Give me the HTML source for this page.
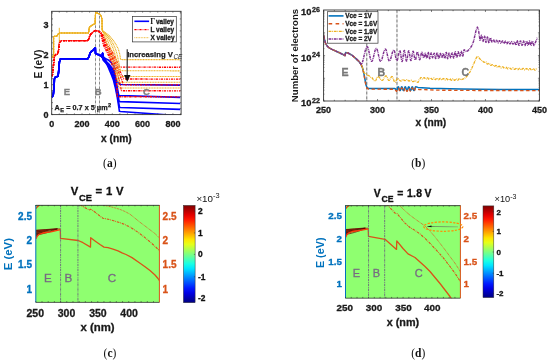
<!DOCTYPE html>
<html><head><meta charset="utf-8"><style>
html,body{margin:0;padding:0;background:#fff;}
svg{display:block;font-family:"Liberation Sans", sans-serif;will-change:transform;}
</style></head><body>
<svg width="550" height="361" viewBox="0 0 550 361">
<rect width="550" height="361" fill="#fff"/>
<clipPath id="ca"><rect x="51.7" y="11.3" width="129.39999999999998" height="103.3"/></clipPath>
<line x1="51.70" y1="114.6" x2="51.70" y2="113.3" stroke="#333" stroke-width="0.6"/>
<line x1="51.70" y1="11.3" x2="51.70" y2="12.600000000000001" stroke="#333" stroke-width="0.6"/>
<line x1="59.28" y1="114.6" x2="59.28" y2="113.3" stroke="#333" stroke-width="0.6"/>
<line x1="59.28" y1="11.3" x2="59.28" y2="12.600000000000001" stroke="#333" stroke-width="0.6"/>
<line x1="66.85" y1="114.6" x2="66.85" y2="113.3" stroke="#333" stroke-width="0.6"/>
<line x1="66.85" y1="11.3" x2="66.85" y2="12.600000000000001" stroke="#333" stroke-width="0.6"/>
<line x1="74.42" y1="114.6" x2="74.42" y2="113.3" stroke="#333" stroke-width="0.6"/>
<line x1="74.42" y1="11.3" x2="74.42" y2="12.600000000000001" stroke="#333" stroke-width="0.6"/>
<line x1="82.00" y1="114.6" x2="82.00" y2="113.3" stroke="#333" stroke-width="0.6"/>
<line x1="82.00" y1="11.3" x2="82.00" y2="12.600000000000001" stroke="#333" stroke-width="0.6"/>
<line x1="89.58" y1="114.6" x2="89.58" y2="113.3" stroke="#333" stroke-width="0.6"/>
<line x1="89.58" y1="11.3" x2="89.58" y2="12.600000000000001" stroke="#333" stroke-width="0.6"/>
<line x1="97.15" y1="114.6" x2="97.15" y2="113.3" stroke="#333" stroke-width="0.6"/>
<line x1="97.15" y1="11.3" x2="97.15" y2="12.600000000000001" stroke="#333" stroke-width="0.6"/>
<line x1="104.72" y1="114.6" x2="104.72" y2="113.3" stroke="#333" stroke-width="0.6"/>
<line x1="104.72" y1="11.3" x2="104.72" y2="12.600000000000001" stroke="#333" stroke-width="0.6"/>
<line x1="112.30" y1="114.6" x2="112.30" y2="113.3" stroke="#333" stroke-width="0.6"/>
<line x1="112.30" y1="11.3" x2="112.30" y2="12.600000000000001" stroke="#333" stroke-width="0.6"/>
<line x1="119.88" y1="114.6" x2="119.88" y2="113.3" stroke="#333" stroke-width="0.6"/>
<line x1="119.88" y1="11.3" x2="119.88" y2="12.600000000000001" stroke="#333" stroke-width="0.6"/>
<line x1="127.45" y1="114.6" x2="127.45" y2="113.3" stroke="#333" stroke-width="0.6"/>
<line x1="127.45" y1="11.3" x2="127.45" y2="12.600000000000001" stroke="#333" stroke-width="0.6"/>
<line x1="135.03" y1="114.6" x2="135.03" y2="113.3" stroke="#333" stroke-width="0.6"/>
<line x1="135.03" y1="11.3" x2="135.03" y2="12.600000000000001" stroke="#333" stroke-width="0.6"/>
<line x1="142.60" y1="114.6" x2="142.60" y2="113.3" stroke="#333" stroke-width="0.6"/>
<line x1="142.60" y1="11.3" x2="142.60" y2="12.600000000000001" stroke="#333" stroke-width="0.6"/>
<line x1="150.18" y1="114.6" x2="150.18" y2="113.3" stroke="#333" stroke-width="0.6"/>
<line x1="150.18" y1="11.3" x2="150.18" y2="12.600000000000001" stroke="#333" stroke-width="0.6"/>
<line x1="157.75" y1="114.6" x2="157.75" y2="113.3" stroke="#333" stroke-width="0.6"/>
<line x1="157.75" y1="11.3" x2="157.75" y2="12.600000000000001" stroke="#333" stroke-width="0.6"/>
<line x1="165.32" y1="114.6" x2="165.32" y2="113.3" stroke="#333" stroke-width="0.6"/>
<line x1="165.32" y1="11.3" x2="165.32" y2="12.600000000000001" stroke="#333" stroke-width="0.6"/>
<line x1="172.90" y1="114.6" x2="172.90" y2="113.3" stroke="#333" stroke-width="0.6"/>
<line x1="172.90" y1="11.3" x2="172.90" y2="12.600000000000001" stroke="#333" stroke-width="0.6"/>
<line x1="180.48" y1="114.6" x2="180.48" y2="113.3" stroke="#333" stroke-width="0.6"/>
<line x1="180.48" y1="11.3" x2="180.48" y2="12.600000000000001" stroke="#333" stroke-width="0.6"/>
<line x1="51.7" y1="114.60" x2="53.0" y2="114.60" stroke="#333" stroke-width="0.6"/>
<line x1="181.1" y1="114.60" x2="179.79999999999998" y2="114.60" stroke="#333" stroke-width="0.6"/>
<line x1="51.7" y1="108.62" x2="53.0" y2="108.62" stroke="#333" stroke-width="0.6"/>
<line x1="181.1" y1="108.62" x2="179.79999999999998" y2="108.62" stroke="#333" stroke-width="0.6"/>
<line x1="51.7" y1="102.64" x2="53.0" y2="102.64" stroke="#333" stroke-width="0.6"/>
<line x1="181.1" y1="102.64" x2="179.79999999999998" y2="102.64" stroke="#333" stroke-width="0.6"/>
<line x1="51.7" y1="96.66" x2="53.0" y2="96.66" stroke="#333" stroke-width="0.6"/>
<line x1="181.1" y1="96.66" x2="179.79999999999998" y2="96.66" stroke="#333" stroke-width="0.6"/>
<line x1="51.7" y1="90.68" x2="53.0" y2="90.68" stroke="#333" stroke-width="0.6"/>
<line x1="181.1" y1="90.68" x2="179.79999999999998" y2="90.68" stroke="#333" stroke-width="0.6"/>
<line x1="51.7" y1="84.70" x2="53.0" y2="84.70" stroke="#333" stroke-width="0.6"/>
<line x1="181.1" y1="84.70" x2="179.79999999999998" y2="84.70" stroke="#333" stroke-width="0.6"/>
<line x1="51.7" y1="78.72" x2="53.0" y2="78.72" stroke="#333" stroke-width="0.6"/>
<line x1="181.1" y1="78.72" x2="179.79999999999998" y2="78.72" stroke="#333" stroke-width="0.6"/>
<line x1="51.7" y1="72.74" x2="53.0" y2="72.74" stroke="#333" stroke-width="0.6"/>
<line x1="181.1" y1="72.74" x2="179.79999999999998" y2="72.74" stroke="#333" stroke-width="0.6"/>
<line x1="51.7" y1="66.76" x2="53.0" y2="66.76" stroke="#333" stroke-width="0.6"/>
<line x1="181.1" y1="66.76" x2="179.79999999999998" y2="66.76" stroke="#333" stroke-width="0.6"/>
<line x1="51.7" y1="60.78" x2="53.0" y2="60.78" stroke="#333" stroke-width="0.6"/>
<line x1="181.1" y1="60.78" x2="179.79999999999998" y2="60.78" stroke="#333" stroke-width="0.6"/>
<line x1="51.7" y1="54.80" x2="53.0" y2="54.80" stroke="#333" stroke-width="0.6"/>
<line x1="181.1" y1="54.80" x2="179.79999999999998" y2="54.80" stroke="#333" stroke-width="0.6"/>
<line x1="51.7" y1="48.82" x2="53.0" y2="48.82" stroke="#333" stroke-width="0.6"/>
<line x1="181.1" y1="48.82" x2="179.79999999999998" y2="48.82" stroke="#333" stroke-width="0.6"/>
<line x1="51.7" y1="42.84" x2="53.0" y2="42.84" stroke="#333" stroke-width="0.6"/>
<line x1="181.1" y1="42.84" x2="179.79999999999998" y2="42.84" stroke="#333" stroke-width="0.6"/>
<line x1="51.7" y1="36.86" x2="53.0" y2="36.86" stroke="#333" stroke-width="0.6"/>
<line x1="181.1" y1="36.86" x2="179.79999999999998" y2="36.86" stroke="#333" stroke-width="0.6"/>
<line x1="51.7" y1="30.88" x2="53.0" y2="30.88" stroke="#333" stroke-width="0.6"/>
<line x1="181.1" y1="30.88" x2="179.79999999999998" y2="30.88" stroke="#333" stroke-width="0.6"/>
<line x1="51.7" y1="24.90" x2="53.0" y2="24.90" stroke="#333" stroke-width="0.6"/>
<line x1="181.1" y1="24.90" x2="179.79999999999998" y2="24.90" stroke="#333" stroke-width="0.6"/>
<line x1="51.7" y1="18.92" x2="53.0" y2="18.92" stroke="#333" stroke-width="0.6"/>
<line x1="181.1" y1="18.92" x2="179.79999999999998" y2="18.92" stroke="#333" stroke-width="0.6"/>
<line x1="51.7" y1="12.94" x2="53.0" y2="12.94" stroke="#333" stroke-width="0.6"/>
<line x1="181.1" y1="12.94" x2="179.79999999999998" y2="12.94" stroke="#333" stroke-width="0.6"/>
<text x="48.6" y="117.8" font-size="9" text-anchor="end" font-weight="bold" fill="#1a1a1a" stroke="#1a1a1a" stroke-width="0.3" >0</text>
<text x="48.6" y="87.9" font-size="9" text-anchor="end" font-weight="bold" fill="#1a1a1a" stroke="#1a1a1a" stroke-width="0.3" >1</text>
<text x="48.6" y="58.0" font-size="9" text-anchor="end" font-weight="bold" fill="#1a1a1a" stroke="#1a1a1a" stroke-width="0.3" >2</text>
<text x="48.6" y="28.1" font-size="9" text-anchor="end" font-weight="bold" fill="#1a1a1a" stroke="#1a1a1a" stroke-width="0.3" >3</text>
<text x="51.7" y="127.3" font-size="9" text-anchor="middle" font-weight="bold" fill="#1a1a1a" stroke="#1a1a1a" stroke-width="0.3" >0</text>
<text x="82.0" y="127.3" font-size="9" text-anchor="middle" font-weight="bold" fill="#1a1a1a" stroke="#1a1a1a" stroke-width="0.3" >200</text>
<text x="112.3" y="127.3" font-size="9" text-anchor="middle" font-weight="bold" fill="#1a1a1a" stroke="#1a1a1a" stroke-width="0.3" >400</text>
<text x="142.6" y="127.3" font-size="9" text-anchor="middle" font-weight="bold" fill="#1a1a1a" stroke="#1a1a1a" stroke-width="0.3" >600</text>
<text x="172.9" y="127.3" font-size="9" text-anchor="middle" font-weight="bold" fill="#1a1a1a" stroke="#1a1a1a" stroke-width="0.3" >800</text>
<text x="116.4" y="141.5" font-size="10.2" text-anchor="middle" font-weight="bold" fill="#1a1a1a" stroke="#1a1a1a" stroke-width="0.3" >x (nm)</text>
<text transform="translate(42.0,64.1) rotate(-90)" font-size="10.2" text-anchor="middle" font-weight="bold" fill="#1a1a1a">E (eV)</text>
<line x1="95.5" y1="11.3" x2="95.5" y2="114.6" stroke="#d8d8d8" stroke-width="0.8"/>
<line x1="95.5" y1="11.3" x2="95.5" y2="114.6" stroke="#808080" stroke-width="0.9" stroke-dasharray="2.6,2.1"/>
<line x1="99.5" y1="11.3" x2="99.5" y2="114.6" stroke="#d8d8d8" stroke-width="0.8"/>
<line x1="99.5" y1="11.3" x2="99.5" y2="114.6" stroke="#808080" stroke-width="0.9" stroke-dasharray="2.6,2.1"/>
<g clip-path="url(#ca)">
<path d="M52.20,97.20 L53.30,94.50 L54.00,88.00 L54.40,79.00 L55.20,77.20 L58.00,76.30 L58.70,71.00 L59.40,62.00 L60.50,58.70 L88.00,58.70 L89.00,56.50 L90.20,53.00 L91.50,51.30 L93.00,50.30 L95.30,47.80 L95.50,53.30 L97.00,54.20 L99.00,54.80 L101.00,56.00 L102.00,57.20 L102.60,53.40 L103.10,56.60 L103.10,56.60 L104.01,57.89 L104.92,59.18 L105.81,60.47 L106.64,61.76 L107.90,63.05 L109.17,64.34 L110.20,65.63 L111.24,66.92 L112.07,68.21 L112.88,69.50 L113.42,70.79 L113.78,72.08 L114.14,73.37 L114.50,74.66 L114.85,75.95 L115.18,77.24 L115.52,78.53 L115.85,79.82 L116.11,81.11 L116.35,82.40 L116.59,83.69 L116.83,84.98 L117.08,86.27 L117.32,87.56 L117.55,88.85 L117.78,90.14 L118.01,91.43 L118.24,92.72 L118.47,94.01 L118.70,95.30 L119.90,95.50 L180.20,97.35" fill="none" stroke="#0000FF" stroke-width="1.6" stroke-linejoin="round" />
<path d="M52.20,97.20 L53.30,94.50 L54.00,88.00 L54.40,79.00 L55.20,77.20 L58.00,76.30 L58.70,71.00 L59.40,62.00 L60.50,58.70 L88.00,58.70 L89.00,56.50 L90.20,53.00 L91.50,51.30 L93.00,50.30 L95.30,47.80 L95.50,53.30 L97.00,54.20 L99.00,54.80 L101.00,56.00 L102.00,57.20 L102.60,53.40 L103.10,56.60 L103.10,56.60 L103.62,58.09 L104.38,59.59 L105.44,61.08 L106.69,62.57 L108.08,64.07 L109.16,65.56 L110.20,67.05 L111.03,68.55 L111.84,70.04 L112.33,71.53 L112.83,73.03 L113.32,74.52 L113.79,76.01 L114.24,77.51 L114.70,79.00 L115.10,80.49 L115.42,81.99 L115.73,83.48 L116.04,84.97 L116.36,86.47 L116.67,87.96 L116.95,89.45 L117.23,90.95 L117.51,92.44 L117.78,93.93 L118.06,95.43 L118.34,96.92 L118.60,98.41 L118.86,99.91 L119.11,101.40 L120.31,101.60 L180.20,103.56" fill="none" stroke="#0000FF" stroke-width="1.6" stroke-linejoin="round" />
<path d="M52.20,97.20 L53.30,94.50 L54.00,88.00 L54.40,79.00 L55.20,77.20 L58.00,76.30 L58.70,71.00 L59.40,62.00 L60.50,58.70 L88.00,58.70 L89.00,56.50 L90.20,53.00 L91.50,51.30 L93.00,50.30 L95.30,47.80 L95.50,53.30 L97.00,54.20 L99.00,54.80 L101.00,56.00 L102.00,57.20 L102.60,53.40 L103.10,56.60 L103.10,56.60 L103.11,58.29 L103.74,59.98 L105.24,61.67 L106.68,63.36 L107.90,65.05 L108.97,66.74 L109.79,68.43 L110.58,70.12 L111.21,71.81 L111.86,73.50 L112.50,75.19 L113.08,76.88 L113.66,78.57 L114.21,80.26 L114.60,81.95 L114.99,83.64 L115.38,85.33 L115.77,87.02 L116.14,88.71 L116.46,90.40 L116.79,92.09 L117.12,93.78 L117.44,95.47 L117.77,97.16 L118.05,98.85 L118.33,100.54 L118.62,102.23 L118.90,103.92 L119.17,105.61 L119.43,107.30 L120.63,107.50 L180.20,109.33" fill="none" stroke="#0000FF" stroke-width="1.6" stroke-linejoin="round" />
<path d="M52.20,97.20 L53.30,94.50 L54.00,88.00 L54.40,79.00 L55.20,77.20 L58.00,76.30 L58.70,71.00 L59.40,62.00 L60.50,58.70 L88.00,58.70 L89.00,56.50 L90.20,53.00 L91.50,51.30 L93.00,50.30 L95.30,47.80 L95.50,53.30 L97.00,54.20 L99.00,54.80 L101.00,56.00 L102.00,57.20 L102.60,53.40 L103.10,56.60 L103.10,56.60 L102.63,58.42 L103.25,60.25 L105.05,62.07 L106.42,63.89 L107.49,65.72 L108.38,67.54 L109.13,69.36 L109.88,71.19 L110.65,73.01 L111.43,74.83 L112.13,76.66 L112.82,78.48 L113.48,80.30 L113.93,82.13 L114.39,83.95 L114.84,85.77 L115.30,87.60 L115.68,89.42 L116.05,91.24 L116.41,93.07 L116.78,94.89 L117.14,96.71 L117.45,98.54 L117.75,100.36 L118.04,102.18 L118.34,104.01 L118.62,105.83 L118.88,107.65 L119.14,109.48 L119.40,111.30 L120.60,111.50 L180.20,115.77" fill="none" stroke="#0000FF" stroke-width="1.6" stroke-linejoin="round" />
<path d="M52.20,97.20 L53.30,94.50 L54.00,88.00 L54.40,79.00 L55.20,77.20 L58.00,76.30 L58.70,71.00 L59.40,62.00 L60.50,58.70 L88.00,58.70 L89.00,56.50 L90.20,53.00 L91.50,51.30 L93.00,50.30 L95.30,47.80 L95.50,53.30 L97.00,54.20 L99.00,54.80 L101.00,56.00 L102.00,57.20 L102.60,53.40 L103.10,56.60 L103.10,56.60 L104.13,57.52 L105.29,58.45 L107.14,59.37 L108.71,60.29 L109.68,61.22 L110.66,62.14 L111.72,63.06 L112.78,63.99 L113.25,64.91 L113.72,65.83 L113.99,66.76 L114.22,67.68 L114.38,68.60 L114.49,69.53 L114.61,70.45 L114.72,71.37 L114.85,72.30 L115.00,73.22 L115.14,74.14 L115.29,75.07 L115.44,75.99 L115.59,76.91 L115.89,77.84 L116.22,78.76 L116.54,79.68 L116.86,80.61 L117.33,81.53 L117.91,82.45 L118.49,83.38 L120.00,84.30 L121.20,84.50 L180.20,85.13" fill="none" stroke="#0000FF" stroke-width="1.6" stroke-linejoin="round" />
<path d="M51.80,76.20 L52.50,74.40 L53.00,70.30 L53.80,62.00 L54.50,55.90 L56.00,54.50 L58.00,53.80 L58.60,50.00 L59.20,44.20 L60.00,40.80 L61.00,40.60 L88.00,40.60 L89.00,38.00 L90.50,34.50 L93.00,32.00 L95.40,30.50 L98.00,31.00 L100.50,32.50 L100.50,32.50 L101.65,33.65 L102.79,34.79 L103.47,35.94 L104.04,37.09 L104.62,38.23 L105.14,39.38 L105.56,40.53 L105.98,41.67 L106.40,42.82 L106.82,43.97 L107.29,45.11 L108.23,46.26 L109.17,47.41 L110.11,48.55 L111.05,49.70 L111.72,50.85 L112.30,51.99 L112.87,53.14 L113.44,54.29 L114.02,55.43 L114.59,56.58 L115.16,57.73 L115.74,58.87 L116.31,60.02 L116.74,61.17 L117.17,62.31 L117.60,63.46 L118.18,64.61 L118.89,65.75 L119.60,66.90 L120.80,67.10 L180.20,67.26" fill="none" stroke="#FF0000" stroke-width="1.35" stroke-dasharray="2.4,0.9,0.9,0.9" stroke-linejoin="round" />
<path d="M51.80,76.20 L52.50,74.40 L53.00,70.30 L53.80,62.00 L54.50,55.90 L56.00,54.50 L58.00,53.80 L58.60,50.00 L59.20,44.20 L60.00,40.80 L61.00,40.60 L88.00,40.60 L89.00,38.00 L90.50,34.50 L93.00,32.00 L95.40,30.50 L98.00,31.00 L100.50,32.50 L100.50,32.50 L101.68,34.04 L102.66,35.59 L103.31,37.13 L103.96,38.67 L104.50,40.22 L105.01,41.76 L105.51,43.30 L106.01,44.85 L107.07,46.39 L108.18,47.93 L109.30,49.48 L110.18,51.02 L110.95,52.56 L111.71,54.11 L112.46,55.65 L113.21,57.19 L113.95,58.74 L114.66,60.28 L115.21,61.82 L115.77,63.37 L116.48,64.91 L117.34,66.45 L118.20,68.00 L119.07,69.54 L119.88,71.08 L120.67,72.63 L121.46,74.17 L122.23,75.71 L122.98,77.26 L123.72,78.80 L124.92,79.00 L180.20,79.13" fill="none" stroke="#FF0000" stroke-width="1.35" stroke-dasharray="2.4,0.9,0.9,0.9" stroke-linejoin="round" />
<path d="M51.80,76.20 L52.50,74.40 L53.00,70.30 L53.80,62.00 L54.50,55.90 L56.00,54.50 L58.00,53.80 L58.60,50.00 L59.20,44.20 L60.00,40.80 L61.00,40.60 L88.00,40.60 L89.00,38.00 L90.50,34.50 L93.00,32.00 L95.40,30.50 L98.00,31.00 L100.50,32.50 L100.50,32.50 L101.53,34.24 L102.33,35.97 L102.96,37.71 L103.58,39.45 L104.11,41.18 L104.61,42.92 L105.12,44.66 L106.13,46.39 L107.27,48.13 L108.40,49.87 L109.28,51.60 L110.13,53.34 L110.98,55.08 L111.79,56.81 L112.60,58.55 L113.38,60.29 L113.98,62.02 L114.59,63.76 L115.39,65.50 L116.29,67.23 L117.18,68.97 L118.02,70.71 L118.77,72.44 L119.53,74.18 L120.23,75.92 L120.89,77.65 L121.55,79.39 L122.17,81.13 L122.75,82.86 L123.34,84.60 L124.54,84.80 L180.20,84.93" fill="none" stroke="#FF0000" stroke-width="1.35" stroke-dasharray="2.4,0.9,0.9,0.9" stroke-linejoin="round" />
<path d="M51.80,76.20 L52.50,74.40 L53.00,70.30 L53.80,62.00 L54.50,55.90 L56.00,54.50 L58.00,53.80 L58.60,50.00 L59.20,44.20 L60.00,40.80 L61.00,40.60 L88.00,40.60 L89.00,38.00 L90.50,34.50 L93.00,32.00 L95.40,30.50 L98.00,31.00 L100.50,32.50 L100.50,32.50 L101.31,34.43 L101.94,36.37 L102.53,38.30 L103.09,40.23 L103.61,42.17 L104.12,44.10 L104.95,46.03 L106.07,47.97 L107.19,49.90 L108.14,51.83 L109.08,53.77 L109.99,55.70 L110.87,57.63 L111.75,59.57 L112.45,61.50 L113.10,63.43 L113.85,65.37 L114.76,67.30 L115.67,69.23 L116.44,71.17 L117.12,73.10 L117.79,75.03 L118.32,76.97 L118.86,78.90 L119.33,80.83 L119.74,82.77 L120.15,84.70 L120.56,86.63 L120.96,88.57 L121.33,90.50 L122.53,90.70 L180.20,90.85" fill="none" stroke="#FF0000" stroke-width="1.35" stroke-dasharray="2.4,0.9,0.9,0.9" stroke-linejoin="round" />
<path d="M51.80,76.20 L52.50,74.40 L53.00,70.30 L53.80,62.00 L54.50,55.90 L56.00,54.50 L58.00,53.80 L58.60,50.00 L59.20,44.20 L60.00,40.80 L61.00,40.60 L88.00,40.60 L89.00,38.00 L90.50,34.50 L93.00,32.00 L95.40,30.50 L98.00,31.00 L100.50,32.50 L100.50,32.50 L100.97,34.63 L101.45,36.77 L101.97,38.90 L102.51,41.03 L102.99,43.17 L103.55,45.30 L104.62,47.43 L105.68,49.57 L106.72,51.70 L107.74,53.83 L108.73,55.97 L109.66,58.10 L110.57,60.23 L111.26,62.37 L111.94,64.50 L112.79,66.63 L113.68,68.77 L114.43,70.90 L114.99,73.03 L115.53,75.17 L115.87,77.30 L116.21,79.43 L116.42,81.57 L116.58,83.70 L116.74,85.83 L116.90,87.97 L117.00,90.10 L117.10,92.23 L117.20,94.37 L117.30,96.50 L118.50,96.70 L180.20,96.87" fill="none" stroke="#FF0000" stroke-width="1.35" stroke-dasharray="2.4,0.9,0.9,0.9" stroke-linejoin="round" />
<path d="M51.80,57.50 L53.00,56.50 L53.60,55.30 L53.60,36.60 L54.50,36.30 L57.00,36.00 L58.00,34.20 L59.00,33.20 L60.00,33.00 L88.50,33.00 L89.40,27.20 L92.00,25.20 L95.00,23.80 L95.60,12.20 L98.00,13.40 L99.80,14.20 L101.40,16.50 L102.00,20.00 L102.20,30.50 L102.20,30.50 L103.53,31.46 L104.94,32.43 L106.39,33.39 L107.61,34.35 L108.69,35.32 L109.76,36.28 L110.64,37.24 L111.46,38.21 L112.29,39.17 L113.09,40.13 L113.73,41.10 L114.37,42.06 L115.02,43.02 L115.66,43.99 L116.23,44.95 L116.72,45.91 L117.21,46.88 L117.71,47.84 L118.20,48.80 L118.51,49.77 L118.78,50.73 L119.05,51.69 L119.32,52.66 L119.59,53.62 L119.80,54.58 L119.96,55.55 L120.12,56.51 L120.28,57.47 L120.44,58.44 L120.60,59.40 L121.80,59.60 L180.20,59.63" fill="none" stroke="#EDB120" stroke-width="1.1" stroke-dasharray="1.1,0.5" stroke-linejoin="round" />
<path d="M51.80,57.50 L53.00,56.50 L53.60,55.30 L53.60,36.60 L54.50,36.30 L57.00,36.00 L58.00,34.20 L59.00,33.20 L60.00,33.00 L88.50,33.00 L89.40,27.20 L92.00,25.20 L95.00,23.80 L95.60,12.20 L98.00,13.40 L99.80,14.20 L101.40,16.50 L102.00,20.00 L102.20,30.50 L102.20,30.50 L103.70,31.84 L105.30,33.17 L106.68,34.51 L107.86,35.85 L108.92,37.18 L109.86,38.52 L110.80,39.86 L111.58,41.19 L112.34,42.53 L113.09,43.87 L113.77,45.20 L114.38,46.54 L114.99,47.88 L115.58,49.21 L115.98,50.55 L116.39,51.89 L116.79,53.22 L117.15,54.56 L117.43,55.90 L117.71,57.23 L117.98,58.57 L118.26,59.91 L118.54,61.24 L118.82,62.58 L119.09,63.92 L119.35,65.25 L119.61,66.59 L119.88,67.93 L120.14,69.26 L120.41,70.60 L121.61,70.80 L180.20,70.83" fill="none" stroke="#EDB120" stroke-width="1.1" stroke-dasharray="1.1,0.5" stroke-linejoin="round" />
<path d="M51.80,57.50 L53.00,56.50 L53.60,55.30 L53.60,36.60 L54.50,36.30 L57.00,36.00 L58.00,34.20 L59.00,33.20 L60.00,33.00 L88.50,33.00 L89.40,27.20 L92.00,25.20 L95.00,23.80 L95.60,12.20 L98.00,13.40 L99.80,14.20 L101.40,16.50 L102.00,20.00 L102.20,30.50 L102.20,30.50 L103.60,32.03 L105.07,33.55 L106.20,35.08 L107.27,36.61 L108.16,38.13 L109.05,39.66 L109.83,41.19 L110.58,42.71 L111.33,44.24 L111.97,45.77 L112.60,47.29 L113.25,48.82 L113.76,50.35 L114.24,51.87 L114.73,53.40 L115.16,54.93 L115.53,56.45 L115.90,57.98 L116.26,59.51 L116.63,61.03 L116.99,62.56 L117.34,64.09 L117.68,65.61 L118.02,67.14 L118.36,68.67 L118.70,70.19 L119.04,71.72 L119.36,73.25 L119.68,74.77 L120.00,76.30 L121.20,76.50 L180.20,76.54" fill="none" stroke="#EDB120" stroke-width="1.1" stroke-dasharray="1.1,0.5" stroke-linejoin="round" />
<path d="M51.80,57.50 L53.00,56.50 L53.60,55.30 L53.60,36.60 L54.50,36.30 L57.00,36.00 L58.00,34.20 L59.00,33.20 L60.00,33.00 L88.50,33.00 L89.40,27.20 L92.00,25.20 L95.00,23.80 L95.60,12.20 L98.00,13.40 L99.80,14.20 L101.40,16.50 L102.00,20.00 L102.20,30.50 L102.20,30.50 L103.36,32.22 L104.51,33.93 L105.39,35.65 L106.20,37.37 L106.97,39.08 L107.70,40.80 L108.38,42.52 L109.07,44.23 L109.70,45.95 L110.33,47.67 L110.97,49.38 L111.55,51.10 L112.13,52.82 L112.70,54.53 L113.19,56.25 L113.66,57.97 L114.13,59.68 L114.61,61.40 L115.08,63.12 L115.51,64.83 L115.94,66.55 L116.37,68.27 L116.80,69.98 L117.22,71.70 L117.62,73.42 L118.02,75.13 L118.41,76.85 L118.80,78.57 L119.18,80.28 L119.47,82.00 L120.67,82.20 L180.20,82.24" fill="none" stroke="#EDB120" stroke-width="1.1" stroke-dasharray="1.1,0.5" stroke-linejoin="round" />
<path d="M51.80,57.50 L53.00,56.50 L53.60,55.30 L53.60,36.60 L54.50,36.30 L57.00,36.00 L58.00,34.20 L59.00,33.20 L60.00,33.00 L88.50,33.00 L89.40,27.20 L92.00,25.20 L95.00,23.80 L95.60,12.20 L98.00,13.40 L99.80,14.20 L101.40,16.50 L102.00,20.00 L102.20,30.50 L102.20,30.50 L103.03,32.41 L103.75,34.32 L104.34,36.23 L104.93,38.14 L105.52,40.05 L106.11,41.96 L106.71,43.87 L107.31,45.78 L107.90,47.69 L108.57,49.60 L109.25,51.51 L109.94,53.42 L110.60,55.33 L111.20,57.24 L111.80,59.15 L112.39,61.06 L112.99,62.97 L113.52,64.88 L114.05,66.79 L114.58,68.70 L115.11,70.61 L115.63,72.52 L116.11,74.43 L116.59,76.34 L117.06,78.25 L117.53,80.16 L117.84,82.07 L118.16,83.98 L118.48,85.89 L118.80,87.80 L120.00,88.00 L180.20,88.04" fill="none" stroke="#EDB120" stroke-width="1.1" stroke-dasharray="1.1,0.5" stroke-linejoin="round" />
<line x1="59.3" y1="27.8" x2="59.3" y2="42" stroke="#EDB120" stroke-width="0.9"/>
</g>
<rect x="51.7" y="11.3" width="129.4" height="103.3" fill="none" stroke="#333" stroke-width="0.9"/>
<text x="66.9" y="94.9" font-size="9.5" text-anchor="middle" font-weight="bold" fill="#7f7f7f" stroke="#7f7f7f" stroke-width="0.3" >E</text>
<text x="98.2" y="94.9" font-size="9.5" text-anchor="middle" font-weight="bold" fill="#7f7f7f" stroke="#7f7f7f" stroke-width="0.3" >B</text>
<text x="146.5" y="95.4" font-size="9.5" text-anchor="middle" font-weight="bold" fill="#7f7f7f" stroke="#7f7f7f" stroke-width="0.3" >C</text>
<text x="54.6" y="110.1" font-size="7.25" font-weight="bold" fill="#1a1a1a" stroke="#1a1a1a" stroke-width="0.25">A<tspan font-size="5.6" dy="1.5" dx="0.3">E</tspan><tspan dy="-1.5" dx="0.4"> = 0.7 x 5 μm</tspan><tspan font-size="5.6" dy="-3.2" dx="0.3">2</tspan></text>
<rect x="132.4" y="16.4" width="43.9" height="25.5" fill="#fff" stroke="#333" stroke-width="0.7"/>
<line x1="134.4" y1="21.3" x2="149.1" y2="21.3" stroke="#0000FF" stroke-width="1.6"/>
<line x1="134.4" y1="29.7" x2="149.1" y2="29.7" stroke="#FF0000" stroke-width="1.3" stroke-dasharray="2.2,1,0.8,1"/>
<line x1="134.4" y1="37.7" x2="149.1" y2="37.7" stroke="#EDB120" stroke-width="0.9" stroke-dasharray="0.9,0.7"/>
<text x="150.3" y="23.9" font-size="7.9" font-family="Liberation Serif, serif" font-weight="bold" fill="#1a1a1a">Γ</text>
<text x="156.0" y="23.6" font-size="6.45" text-anchor="start" font-weight="bold" fill="#1a1a1a" stroke="#1a1a1a" stroke-width="0.3" >valley</text>
<text x="150.4" y="32.0" font-size="6.5" text-anchor="start" font-weight="bold" fill="#1a1a1a" stroke="#1a1a1a" stroke-width="0.3" >L valley</text>
<text x="150.4" y="40.0" font-size="6.5" text-anchor="start" font-weight="bold" fill="#1a1a1a" stroke="#1a1a1a" stroke-width="0.3" >X valley</text>
<line x1="127.2" y1="49.2" x2="127.2" y2="76" stroke="#222" stroke-width="1.1"/>
<path d="M124,75 L130.5,75 L127.2,81.8 Z" fill="#111"/>
<text x="127.2" y="56.7" font-size="7.7" font-weight="bold" fill="#1a1a1a" stroke="#1a1a1a" stroke-width="0.25">Increasing V</text>
<text x="173.4" y="58.8" font-size="6.4" font-style="italic" fill="#1a1a1a">CE</text>
<text x="109.8" y="167" font-size="11.5" text-anchor="middle" font-family="'Liberation Serif', serif" fill="#111">(<tspan font-weight="bold">a</tspan>)</text>
<text x="418.2" y="167" font-size="11.5" text-anchor="middle" font-family="'Liberation Serif', serif" fill="#111">(<tspan font-weight="bold">b</tspan>)</text>
<text x="110" y="357" font-size="11.5" text-anchor="middle" font-family="'Liberation Serif', serif" fill="#111">(<tspan font-weight="bold">c</tspan>)</text>
<text x="418.2" y="357" font-size="11.5" text-anchor="middle" font-family="'Liberation Serif', serif" fill="#111">(<tspan font-weight="bold">d</tspan>)</text>
<clipPath id="cb"><rect x="323.6" y="10.0" width="215.79999999999995" height="91.0"/></clipPath>
<line x1="323.60" y1="101.0" x2="323.60" y2="99.0" stroke="#333" stroke-width="0.6"/>
<line x1="323.60" y1="10.0" x2="323.60" y2="12.0" stroke="#333" stroke-width="0.6"/>
<line x1="334.39" y1="101.0" x2="334.39" y2="99.8" stroke="#333" stroke-width="0.6"/>
<line x1="334.39" y1="10.0" x2="334.39" y2="11.2" stroke="#333" stroke-width="0.6"/>
<line x1="345.18" y1="101.0" x2="345.18" y2="99.8" stroke="#333" stroke-width="0.6"/>
<line x1="345.18" y1="10.0" x2="345.18" y2="11.2" stroke="#333" stroke-width="0.6"/>
<line x1="355.97" y1="101.0" x2="355.97" y2="99.8" stroke="#333" stroke-width="0.6"/>
<line x1="355.97" y1="10.0" x2="355.97" y2="11.2" stroke="#333" stroke-width="0.6"/>
<line x1="366.76" y1="101.0" x2="366.76" y2="99.8" stroke="#333" stroke-width="0.6"/>
<line x1="366.76" y1="10.0" x2="366.76" y2="11.2" stroke="#333" stroke-width="0.6"/>
<line x1="377.55" y1="101.0" x2="377.55" y2="99.0" stroke="#333" stroke-width="0.6"/>
<line x1="377.55" y1="10.0" x2="377.55" y2="12.0" stroke="#333" stroke-width="0.6"/>
<line x1="388.34" y1="101.0" x2="388.34" y2="99.8" stroke="#333" stroke-width="0.6"/>
<line x1="388.34" y1="10.0" x2="388.34" y2="11.2" stroke="#333" stroke-width="0.6"/>
<line x1="399.13" y1="101.0" x2="399.13" y2="99.8" stroke="#333" stroke-width="0.6"/>
<line x1="399.13" y1="10.0" x2="399.13" y2="11.2" stroke="#333" stroke-width="0.6"/>
<line x1="409.92" y1="101.0" x2="409.92" y2="99.8" stroke="#333" stroke-width="0.6"/>
<line x1="409.92" y1="10.0" x2="409.92" y2="11.2" stroke="#333" stroke-width="0.6"/>
<line x1="420.71" y1="101.0" x2="420.71" y2="99.8" stroke="#333" stroke-width="0.6"/>
<line x1="420.71" y1="10.0" x2="420.71" y2="11.2" stroke="#333" stroke-width="0.6"/>
<line x1="431.50" y1="101.0" x2="431.50" y2="99.0" stroke="#333" stroke-width="0.6"/>
<line x1="431.50" y1="10.0" x2="431.50" y2="12.0" stroke="#333" stroke-width="0.6"/>
<line x1="442.29" y1="101.0" x2="442.29" y2="99.8" stroke="#333" stroke-width="0.6"/>
<line x1="442.29" y1="10.0" x2="442.29" y2="11.2" stroke="#333" stroke-width="0.6"/>
<line x1="453.08" y1="101.0" x2="453.08" y2="99.8" stroke="#333" stroke-width="0.6"/>
<line x1="453.08" y1="10.0" x2="453.08" y2="11.2" stroke="#333" stroke-width="0.6"/>
<line x1="463.87" y1="101.0" x2="463.87" y2="99.8" stroke="#333" stroke-width="0.6"/>
<line x1="463.87" y1="10.0" x2="463.87" y2="11.2" stroke="#333" stroke-width="0.6"/>
<line x1="474.66" y1="101.0" x2="474.66" y2="99.8" stroke="#333" stroke-width="0.6"/>
<line x1="474.66" y1="10.0" x2="474.66" y2="11.2" stroke="#333" stroke-width="0.6"/>
<line x1="485.45" y1="101.0" x2="485.45" y2="99.0" stroke="#333" stroke-width="0.6"/>
<line x1="485.45" y1="10.0" x2="485.45" y2="12.0" stroke="#333" stroke-width="0.6"/>
<line x1="496.24" y1="101.0" x2="496.24" y2="99.8" stroke="#333" stroke-width="0.6"/>
<line x1="496.24" y1="10.0" x2="496.24" y2="11.2" stroke="#333" stroke-width="0.6"/>
<line x1="507.03" y1="101.0" x2="507.03" y2="99.8" stroke="#333" stroke-width="0.6"/>
<line x1="507.03" y1="10.0" x2="507.03" y2="11.2" stroke="#333" stroke-width="0.6"/>
<line x1="517.82" y1="101.0" x2="517.82" y2="99.8" stroke="#333" stroke-width="0.6"/>
<line x1="517.82" y1="10.0" x2="517.82" y2="11.2" stroke="#333" stroke-width="0.6"/>
<line x1="528.61" y1="101.0" x2="528.61" y2="99.8" stroke="#333" stroke-width="0.6"/>
<line x1="528.61" y1="10.0" x2="528.61" y2="11.2" stroke="#333" stroke-width="0.6"/>
<line x1="539.40" y1="101.0" x2="539.40" y2="99.0" stroke="#333" stroke-width="0.6"/>
<line x1="539.40" y1="10.0" x2="539.40" y2="12.0" stroke="#333" stroke-width="0.6"/>
<line x1="323.6" y1="101.00" x2="325.1" y2="101.00" stroke="#333" stroke-width="0.5"/>
<line x1="539.4" y1="101.00" x2="537.9" y2="101.00" stroke="#333" stroke-width="0.5"/>
<line x1="323.6" y1="94.15" x2="324.5" y2="94.15" stroke="#333" stroke-width="0.5"/>
<line x1="539.4" y1="94.15" x2="538.5" y2="94.15" stroke="#333" stroke-width="0.5"/>
<line x1="323.6" y1="90.15" x2="324.5" y2="90.15" stroke="#333" stroke-width="0.5"/>
<line x1="539.4" y1="90.15" x2="538.5" y2="90.15" stroke="#333" stroke-width="0.5"/>
<line x1="323.6" y1="87.30" x2="324.5" y2="87.30" stroke="#333" stroke-width="0.5"/>
<line x1="539.4" y1="87.30" x2="538.5" y2="87.30" stroke="#333" stroke-width="0.5"/>
<line x1="323.6" y1="85.10" x2="324.5" y2="85.10" stroke="#333" stroke-width="0.5"/>
<line x1="539.4" y1="85.10" x2="538.5" y2="85.10" stroke="#333" stroke-width="0.5"/>
<line x1="323.6" y1="83.30" x2="324.5" y2="83.30" stroke="#333" stroke-width="0.5"/>
<line x1="539.4" y1="83.30" x2="538.5" y2="83.30" stroke="#333" stroke-width="0.5"/>
<line x1="323.6" y1="81.77" x2="324.5" y2="81.77" stroke="#333" stroke-width="0.5"/>
<line x1="539.4" y1="81.77" x2="538.5" y2="81.77" stroke="#333" stroke-width="0.5"/>
<line x1="323.6" y1="80.45" x2="324.5" y2="80.45" stroke="#333" stroke-width="0.5"/>
<line x1="539.4" y1="80.45" x2="538.5" y2="80.45" stroke="#333" stroke-width="0.5"/>
<line x1="323.6" y1="79.29" x2="324.5" y2="79.29" stroke="#333" stroke-width="0.5"/>
<line x1="539.4" y1="79.29" x2="538.5" y2="79.29" stroke="#333" stroke-width="0.5"/>
<line x1="323.6" y1="78.25" x2="325.1" y2="78.25" stroke="#333" stroke-width="0.5"/>
<line x1="539.4" y1="78.25" x2="537.9" y2="78.25" stroke="#333" stroke-width="0.5"/>
<line x1="323.6" y1="71.40" x2="324.5" y2="71.40" stroke="#333" stroke-width="0.5"/>
<line x1="539.4" y1="71.40" x2="538.5" y2="71.40" stroke="#333" stroke-width="0.5"/>
<line x1="323.6" y1="67.40" x2="324.5" y2="67.40" stroke="#333" stroke-width="0.5"/>
<line x1="539.4" y1="67.40" x2="538.5" y2="67.40" stroke="#333" stroke-width="0.5"/>
<line x1="323.6" y1="64.55" x2="324.5" y2="64.55" stroke="#333" stroke-width="0.5"/>
<line x1="539.4" y1="64.55" x2="538.5" y2="64.55" stroke="#333" stroke-width="0.5"/>
<line x1="323.6" y1="62.35" x2="324.5" y2="62.35" stroke="#333" stroke-width="0.5"/>
<line x1="539.4" y1="62.35" x2="538.5" y2="62.35" stroke="#333" stroke-width="0.5"/>
<line x1="323.6" y1="60.55" x2="324.5" y2="60.55" stroke="#333" stroke-width="0.5"/>
<line x1="539.4" y1="60.55" x2="538.5" y2="60.55" stroke="#333" stroke-width="0.5"/>
<line x1="323.6" y1="59.02" x2="324.5" y2="59.02" stroke="#333" stroke-width="0.5"/>
<line x1="539.4" y1="59.02" x2="538.5" y2="59.02" stroke="#333" stroke-width="0.5"/>
<line x1="323.6" y1="57.70" x2="324.5" y2="57.70" stroke="#333" stroke-width="0.5"/>
<line x1="539.4" y1="57.70" x2="538.5" y2="57.70" stroke="#333" stroke-width="0.5"/>
<line x1="323.6" y1="56.54" x2="324.5" y2="56.54" stroke="#333" stroke-width="0.5"/>
<line x1="539.4" y1="56.54" x2="538.5" y2="56.54" stroke="#333" stroke-width="0.5"/>
<line x1="323.6" y1="55.50" x2="325.1" y2="55.50" stroke="#333" stroke-width="0.5"/>
<line x1="539.4" y1="55.50" x2="537.9" y2="55.50" stroke="#333" stroke-width="0.5"/>
<line x1="323.6" y1="48.65" x2="324.5" y2="48.65" stroke="#333" stroke-width="0.5"/>
<line x1="539.4" y1="48.65" x2="538.5" y2="48.65" stroke="#333" stroke-width="0.5"/>
<line x1="323.6" y1="44.65" x2="324.5" y2="44.65" stroke="#333" stroke-width="0.5"/>
<line x1="539.4" y1="44.65" x2="538.5" y2="44.65" stroke="#333" stroke-width="0.5"/>
<line x1="323.6" y1="41.80" x2="324.5" y2="41.80" stroke="#333" stroke-width="0.5"/>
<line x1="539.4" y1="41.80" x2="538.5" y2="41.80" stroke="#333" stroke-width="0.5"/>
<line x1="323.6" y1="39.60" x2="324.5" y2="39.60" stroke="#333" stroke-width="0.5"/>
<line x1="539.4" y1="39.60" x2="538.5" y2="39.60" stroke="#333" stroke-width="0.5"/>
<line x1="323.6" y1="37.80" x2="324.5" y2="37.80" stroke="#333" stroke-width="0.5"/>
<line x1="539.4" y1="37.80" x2="538.5" y2="37.80" stroke="#333" stroke-width="0.5"/>
<line x1="323.6" y1="36.27" x2="324.5" y2="36.27" stroke="#333" stroke-width="0.5"/>
<line x1="539.4" y1="36.27" x2="538.5" y2="36.27" stroke="#333" stroke-width="0.5"/>
<line x1="323.6" y1="34.95" x2="324.5" y2="34.95" stroke="#333" stroke-width="0.5"/>
<line x1="539.4" y1="34.95" x2="538.5" y2="34.95" stroke="#333" stroke-width="0.5"/>
<line x1="323.6" y1="33.79" x2="324.5" y2="33.79" stroke="#333" stroke-width="0.5"/>
<line x1="539.4" y1="33.79" x2="538.5" y2="33.79" stroke="#333" stroke-width="0.5"/>
<line x1="323.6" y1="32.75" x2="325.1" y2="32.75" stroke="#333" stroke-width="0.5"/>
<line x1="539.4" y1="32.75" x2="537.9" y2="32.75" stroke="#333" stroke-width="0.5"/>
<line x1="323.6" y1="25.90" x2="324.5" y2="25.90" stroke="#333" stroke-width="0.5"/>
<line x1="539.4" y1="25.90" x2="538.5" y2="25.90" stroke="#333" stroke-width="0.5"/>
<line x1="323.6" y1="21.90" x2="324.5" y2="21.90" stroke="#333" stroke-width="0.5"/>
<line x1="539.4" y1="21.90" x2="538.5" y2="21.90" stroke="#333" stroke-width="0.5"/>
<line x1="323.6" y1="19.05" x2="324.5" y2="19.05" stroke="#333" stroke-width="0.5"/>
<line x1="539.4" y1="19.05" x2="538.5" y2="19.05" stroke="#333" stroke-width="0.5"/>
<line x1="323.6" y1="16.85" x2="324.5" y2="16.85" stroke="#333" stroke-width="0.5"/>
<line x1="539.4" y1="16.85" x2="538.5" y2="16.85" stroke="#333" stroke-width="0.5"/>
<line x1="323.6" y1="15.05" x2="324.5" y2="15.05" stroke="#333" stroke-width="0.5"/>
<line x1="539.4" y1="15.05" x2="538.5" y2="15.05" stroke="#333" stroke-width="0.5"/>
<line x1="323.6" y1="13.52" x2="324.5" y2="13.52" stroke="#333" stroke-width="0.5"/>
<line x1="539.4" y1="13.52" x2="538.5" y2="13.52" stroke="#333" stroke-width="0.5"/>
<line x1="323.6" y1="12.20" x2="324.5" y2="12.20" stroke="#333" stroke-width="0.5"/>
<line x1="539.4" y1="12.20" x2="538.5" y2="12.20" stroke="#333" stroke-width="0.5"/>
<line x1="323.6" y1="11.04" x2="324.5" y2="11.04" stroke="#333" stroke-width="0.5"/>
<line x1="539.4" y1="11.04" x2="538.5" y2="11.04" stroke="#333" stroke-width="0.5"/>
<text x="323.6" y="113.3" font-size="9" text-anchor="middle" font-weight="bold" fill="#1a1a1a" stroke="#1a1a1a" stroke-width="0.3" >250</text>
<text x="377.6" y="113.3" font-size="9" text-anchor="middle" font-weight="bold" fill="#1a1a1a" stroke="#1a1a1a" stroke-width="0.3" >300</text>
<text x="431.5" y="113.3" font-size="9" text-anchor="middle" font-weight="bold" fill="#1a1a1a" stroke="#1a1a1a" stroke-width="0.3" >350</text>
<text x="485.5" y="113.3" font-size="9" text-anchor="middle" font-weight="bold" fill="#1a1a1a" stroke="#1a1a1a" stroke-width="0.3" >400</text>
<text x="539.4" y="113.3" font-size="9" text-anchor="middle" font-weight="bold" fill="#1a1a1a" stroke="#1a1a1a" stroke-width="0.3" >450</text>
<text x="311.5" y="106.4" font-size="9.4" text-anchor="end" font-weight="bold" fill="#1a1a1a" stroke="#1a1a1a" stroke-width="0.3" >10</text>
<text x="312.0" y="102.5" font-size="7.2" text-anchor="start" font-weight="bold" fill="#1a1a1a" stroke="#1a1a1a" stroke-width="0.3" >22</text>
<text x="311.5" y="60.9" font-size="9.4" text-anchor="end" font-weight="bold" fill="#1a1a1a" stroke="#1a1a1a" stroke-width="0.3" >10</text>
<text x="312.0" y="57.0" font-size="7.2" text-anchor="start" font-weight="bold" fill="#1a1a1a" stroke="#1a1a1a" stroke-width="0.3" >24</text>
<text x="311.5" y="15.4" font-size="9.4" text-anchor="end" font-weight="bold" fill="#1a1a1a" stroke="#1a1a1a" stroke-width="0.3" >10</text>
<text x="312.0" y="11.5" font-size="7.2" text-anchor="start" font-weight="bold" fill="#1a1a1a" stroke="#1a1a1a" stroke-width="0.3" >26</text>
<text x="430.9" y="125.5" font-size="10.2" text-anchor="middle" font-weight="bold" fill="#1a1a1a" stroke="#1a1a1a" stroke-width="0.3" >x (nm)</text>
<text transform="translate(297.6,55.5) rotate(-90)" font-size="9.6" text-anchor="middle" font-weight="bold" fill="#1a1a1a">Number of electrons</text>
<line x1="366.76" y1="10.0" x2="366.76" y2="101.0" stroke="#cfcfcf" stroke-width="0.8"/>
<line x1="366.76" y1="10.0" x2="366.76" y2="101.0" stroke="#707070" stroke-width="0.9" stroke-dasharray="2.8,2"/>
<line x1="396.97" y1="10.0" x2="396.97" y2="101.0" stroke="#cfcfcf" stroke-width="0.8"/>
<line x1="396.97" y1="10.0" x2="396.97" y2="101.0" stroke="#707070" stroke-width="0.9" stroke-dasharray="2.8,2"/>
<g clip-path="url(#cb)">
<path d="M323.60,35.50 L324.50,39.50 L325.50,43.00 L327.00,45.80 L329.00,47.80 L332.00,49.40 L336.00,51.20 L340.00,53.00 L344.00,55.00 L345.00,55.60 L345.60,52.60 L348.00,53.00 L352.00,55.20 L356.00,58.60 L359.00,61.60 L361.00,64.20 L362.00,66.50 L363.00,69.50 L364.00,74.00 L365.00,79.50 L366.00,85.00 L367.00,87.60 L368.50,88.40 L380.00,88.60 L395.00,88.60 L395.00,88.60 L395.21,88.70 L395.43,88.98 L395.64,89.38 L395.86,89.82 L396.07,90.22 L396.29,90.50 L396.50,90.60 L396.72,90.46 L396.94,90.04 L397.16,89.43 L397.38,88.70 L397.59,87.97 L397.81,87.36 L398.03,86.94 L398.25,86.80 L398.47,86.94 L398.69,87.36 L398.91,87.97 L399.12,88.70 L399.34,89.43 L399.56,90.04 L399.78,90.46 L400.00,90.60 L400.22,90.46 L400.44,90.04 L400.66,89.43 L400.88,88.70 L401.09,87.97 L401.31,87.36 L401.53,86.94 L401.75,86.80 L401.97,86.94 L402.19,87.36 L402.41,87.97 L402.62,88.70 L402.84,89.43 L403.06,90.04 L403.28,90.46 L403.50,90.60 L403.72,90.46 L403.94,90.04 L404.16,89.43 L404.38,88.70 L404.59,87.97 L404.81,87.36 L405.03,86.94 L405.25,86.80 L405.47,86.94 L405.69,87.36 L405.91,87.97 L406.12,88.70 L406.34,89.43 L406.56,90.04 L406.78,90.46 L407.00,90.60 L407.22,90.46 L407.44,90.04 L407.66,89.43 L407.88,88.70 L408.09,87.97 L408.31,87.36 L408.53,86.94 L408.75,86.80 L408.97,86.94 L409.19,87.36 L409.41,87.97 L409.62,88.70 L409.84,89.43 L410.06,90.04 L410.28,90.46 L410.50,90.60 L410.72,90.46 L410.94,90.04 L411.16,89.43 L411.38,88.70 L411.59,87.97 L411.81,87.36 L412.03,86.94 L412.25,86.80 L412.47,86.94 L412.69,87.36 L412.91,87.97 L413.12,88.70 L413.34,89.43 L413.56,90.04 L413.78,90.46 L414.00,90.60 L414.22,90.46 L414.44,90.04 L414.66,89.43 L414.88,88.70 L415.09,87.97 L415.31,87.36 L415.53,86.94 L415.75,86.80 L418.00,87.40 L430.00,88.20 L460.00,89.00 L500.00,89.40 L540.00,89.60" fill="none" stroke="#0072BD" stroke-width="1.5" stroke-linejoin="round" />
<path d="M323.60,35.50 L324.50,39.50 L325.50,43.00 L327.00,45.80 L329.00,47.80 L332.00,49.40 L336.00,51.20 L340.00,53.00 L344.00,55.00 L345.00,55.60 L345.60,52.60 L348.00,53.00 L352.00,55.20 L356.00,58.60 L359.00,61.60 L361.00,64.20 L362.00,66.80 L363.00,70.00 L364.00,74.80 L365.00,80.50 L366.00,86.00 L367.00,88.20 L368.50,89.10 L395.00,89.30 L396.50,91.30 L396.72,91.17 L396.94,90.80 L397.16,90.25 L397.38,89.60 L397.59,88.95 L397.81,88.40 L398.03,88.03 L398.25,87.90 L398.47,88.03 L398.69,88.40 L398.91,88.95 L399.12,89.60 L399.34,90.25 L399.56,90.80 L399.78,91.17 L400.00,91.30 L400.22,91.17 L400.44,90.80 L400.66,90.25 L400.88,89.60 L401.09,88.95 L401.31,88.40 L401.53,88.03 L401.75,87.90 L401.97,88.03 L402.19,88.40 L402.41,88.95 L402.62,89.60 L402.84,90.25 L403.06,90.80 L403.28,91.17 L403.50,91.30 L403.72,91.17 L403.94,90.80 L404.16,90.25 L404.38,89.60 L404.59,88.95 L404.81,88.40 L405.03,88.03 L405.25,87.90 L405.47,88.03 L405.69,88.40 L405.91,88.95 L406.12,89.60 L406.34,90.25 L406.56,90.80 L406.78,91.17 L407.00,91.30 L407.22,91.17 L407.44,90.80 L407.66,90.25 L407.88,89.60 L408.09,88.95 L408.31,88.40 L408.53,88.03 L408.75,87.90 L408.97,88.03 L409.19,88.40 L409.41,88.95 L409.62,89.60 L409.84,90.25 L410.06,90.80 L410.28,91.17 L410.50,91.30 L410.72,91.17 L410.94,90.80 L411.16,90.25 L411.38,89.60 L411.59,88.95 L411.81,88.40 L412.03,88.03 L412.25,87.90 L412.47,88.03 L412.69,88.40 L412.91,88.95 L413.12,89.60 L413.34,90.25 L413.56,90.80 L413.78,91.17 L414.00,91.30 L414.22,91.17 L414.44,90.80 L414.66,90.25 L414.88,89.60 L415.09,88.95 L415.31,88.40 L415.53,88.03 L415.75,87.90 L415.95,87.92 L416.16,87.96 L416.36,88.03 L416.56,88.13 L416.77,88.26 L416.97,88.39 L417.17,88.54 L417.38,88.70 L417.58,88.86 L417.78,89.01 L417.98,89.14 L418.19,89.27 L418.39,89.37 L418.59,89.44 L418.80,89.48 L419.00,89.50 L440.00,90.20 L480.00,90.50 L540.00,90.60" fill="none" stroke="#D95319" stroke-width="1.35" stroke-dasharray="3.4,2.6" stroke-linejoin="round" />
<path d="M323.60,35.50 L324.50,39.50 L325.50,43.00 L327.00,45.80 L329.00,47.80 L332.00,49.40 L336.00,51.20 L340.00,53.00 L344.00,55.00 L345.00,55.60 L345.60,52.60 L348.00,53.00 L352.00,55.20 L356.00,58.60 L359.00,61.60 L361.00,64.20 L361.00,64.20 L362.50,67.60 L363.50,71.00 L364.50,73.40 L364.71,73.43 L364.93,73.51 L365.14,73.63 L365.36,73.77 L365.57,73.89 L365.79,73.97 L366.00,74.00 L366.20,74.03 L366.40,74.12 L366.60,74.27 L366.80,74.45 L367.00,74.65 L367.20,74.85 L367.40,75.03 L367.60,75.18 L367.80,75.27 L368.00,75.30 L368.20,75.32 L368.40,75.38 L368.60,75.48 L368.80,75.61 L369.00,75.77 L369.20,75.96 L369.40,76.15 L369.60,76.35 L369.80,76.54 L370.00,76.72 L370.20,76.89 L370.40,77.02 L370.60,77.12 L370.80,77.18 L371.00,77.20 L371.20,77.22 L371.40,77.29 L371.60,77.41 L371.80,77.56 L372.00,77.76 L372.20,77.98 L372.40,78.24 L372.60,78.51 L372.80,78.80 L373.00,79.10 L373.20,79.40 L373.40,79.69 L373.60,79.96 L373.80,80.22 L374.00,80.44 L374.20,80.64 L374.40,80.79 L374.60,80.91 L374.80,80.98 L375.00,81.00 L375.20,80.95 L375.40,80.81 L375.60,80.57 L375.80,80.26 L376.00,79.88 L376.20,79.45 L376.40,78.99 L376.60,78.51 L376.80,78.05 L377.00,77.62 L377.20,77.24 L377.40,76.93 L377.60,76.69 L377.80,76.55 L378.00,76.50 L378.20,76.52 L378.40,76.60 L378.60,76.71 L378.80,76.87 L379.00,77.07 L379.20,77.30 L379.40,77.56 L379.60,77.85 L379.80,78.14 L380.00,78.45 L380.20,78.76 L380.40,79.05 L380.60,79.34 L380.80,79.60 L381.00,79.83 L381.20,80.03 L381.40,80.19 L381.60,80.30 L381.80,80.38 L382.00,80.40 L382.20,80.37 L382.40,80.29 L382.60,80.15 L382.80,79.97 L383.00,79.74 L383.20,79.47 L383.40,79.17 L383.60,78.85 L383.80,78.50 L384.00,78.15 L384.20,77.80 L384.40,77.45 L384.60,77.13 L384.80,76.83 L385.00,76.56 L385.20,76.33 L385.40,76.15 L385.60,76.01 L385.80,75.93 L386.00,75.90 L386.20,75.95 L386.40,76.09 L386.60,76.33 L386.80,76.64 L387.00,77.03 L387.20,77.45 L387.40,77.91 L387.60,78.39 L387.80,78.85 L388.00,79.28 L388.20,79.66 L388.40,79.97 L388.60,80.21 L388.80,80.35 L389.00,80.40 L389.20,80.36 L389.40,80.23 L389.60,80.03 L389.80,79.75 L390.00,79.43 L390.20,79.05 L390.40,78.65 L390.60,78.25 L390.80,77.85 L391.00,77.48 L391.20,77.15 L391.40,76.87 L391.60,76.67 L391.80,76.54 L392.00,76.50 L392.20,76.56 L392.40,76.75 L392.60,77.05 L392.80,77.46 L393.00,77.95 L393.20,78.50 L393.40,79.10 L393.60,79.70 L393.80,80.30 L394.00,80.85 L394.20,81.34 L394.40,81.75 L394.60,82.05 L394.80,82.24 L395.00,82.30 L395.21,82.24 L395.42,82.05 L395.62,81.74 L395.83,81.35 L396.04,80.89 L396.25,80.40 L396.46,79.91 L396.67,79.45 L396.88,79.06 L397.08,78.75 L397.29,78.56 L397.50,78.50 L397.71,78.52 L397.91,78.58 L398.12,78.69 L398.32,78.83 L398.53,79.00 L398.74,79.19 L398.94,79.41 L399.15,79.63 L399.35,79.87 L399.56,80.09 L399.76,80.31 L399.97,80.50 L400.18,80.67 L400.38,80.81 L400.59,80.92 L400.79,80.98 L401.00,81.00 L401.20,80.96 L401.40,80.86 L401.60,80.69 L401.80,80.48 L402.00,80.25 L402.20,80.02 L402.40,79.81 L402.60,79.64 L402.80,79.54 L403.00,79.50 L403.20,79.53 L403.40,79.61 L403.60,79.73 L403.80,79.88 L404.00,80.05 L404.20,80.22 L404.40,80.37 L404.60,80.49 L404.80,80.57 L405.00,80.60 L405.20,80.58 L405.40,80.50 L405.60,80.39 L405.80,80.25 L406.00,80.10 L406.20,79.95 L406.40,79.81 L406.60,79.70 L406.80,79.62 L407.00,79.60 L407.20,79.63 L407.40,79.73 L407.60,79.89 L407.80,80.08 L408.00,80.30 L408.20,80.52 L408.40,80.71 L408.60,80.87 L408.80,80.97 L409.00,81.00 L409.20,80.98 L409.40,80.92 L409.60,80.84 L409.80,80.72 L410.00,80.60 L410.20,80.48 L410.40,80.36 L410.60,80.28 L410.80,80.22 L411.00,80.20 L411.20,80.23 L411.40,80.33 L411.60,80.49 L411.80,80.68 L412.00,80.90 L412.20,81.12 L412.40,81.31 L412.60,81.47 L412.80,81.57 L413.00,81.60 L413.20,81.58 L413.40,81.52 L413.60,81.44 L413.80,81.32 L414.00,81.20 L414.20,81.08 L414.40,80.96 L414.60,80.88 L414.80,80.82 L415.00,80.80 L415.20,80.82 L415.40,80.86 L415.60,80.94 L415.80,81.05 L416.00,81.17 L416.20,81.32 L416.40,81.47 L416.60,81.63 L416.80,81.78 L417.00,81.92 L417.20,82.05 L417.40,82.16 L417.60,82.24 L417.80,82.28 L418.00,82.30 L418.21,82.15 L418.43,81.72 L418.64,81.09 L418.86,80.41 L419.07,79.78 L419.29,79.35 L419.50,79.20 L419.71,79.12 L419.93,78.88 L420.14,78.54 L420.36,78.16 L420.57,77.82 L420.79,77.58 L421.00,77.50 L421.20,77.56 L421.40,77.72 L421.60,77.95 L421.80,78.24 L422.00,78.52 L422.20,78.76 L422.40,78.92 L422.60,78.97 L422.80,78.92 L423.00,78.78 L423.20,78.56 L423.40,78.31 L423.60,78.05 L423.80,77.84 L424.00,77.69 L424.20,77.64 L424.40,77.70 L424.60,77.86 L424.80,78.10 L425.00,78.38 L425.20,78.66 L425.40,78.90 L425.60,79.06 L425.80,79.12 L426.00,79.07 L426.20,78.92 L426.40,78.71 L426.60,78.45 L426.80,78.20 L427.00,77.98 L427.20,77.84 L427.40,77.79 L427.60,77.84 L427.80,78.00 L428.00,78.24 L428.20,78.52 L428.40,78.81 L428.60,79.04 L428.80,79.20 L429.00,79.26 L429.20,79.21 L429.40,79.07 L429.60,78.85 L429.80,78.60 L430.00,78.34 L430.20,78.13 L430.40,77.98 L430.60,77.93 L430.80,77.99 L431.00,78.15 L431.20,78.39 L431.40,78.67 L431.60,78.95 L431.80,79.19 L432.00,79.35 L432.20,79.40 L432.40,79.35 L432.60,79.21 L432.80,78.99 L433.00,78.74 L433.20,78.49 L433.40,78.27 L433.60,78.13 L433.80,78.08 L434.00,78.13 L434.20,78.29 L434.40,78.53 L434.60,78.81 L434.80,79.09 L435.00,79.33 L435.20,79.49 L435.40,79.55 L435.60,79.50 L435.80,79.35 L436.00,79.14 L436.20,78.88 L436.40,78.63 L436.60,78.41 L436.80,78.27 L437.00,78.22 L437.20,78.28 L437.40,78.44 L437.60,78.67 L437.80,78.96 L438.00,79.24 L438.20,79.48 L438.40,79.64 L438.60,79.69 L438.80,79.64 L439.00,79.50 L439.20,79.28 L439.40,79.03 L439.60,78.77 L439.80,78.56 L440.00,78.41 L440.20,78.36 L440.40,78.42 L440.60,78.58 L440.80,78.82 L441.00,79.10 L441.20,79.38 L441.40,79.62 L441.60,79.78 L441.80,79.84 L442.00,79.79 L442.20,79.64 L442.40,79.43 L442.60,79.17 L442.80,78.92 L443.00,78.70 L443.20,78.56 L443.40,78.51 L443.60,78.56 L443.80,78.72 L444.00,78.96 L444.20,79.24 L444.40,79.53 L444.60,79.76 L444.80,79.92 L445.00,79.98 L445.20,79.93 L445.40,79.79 L445.60,79.57 L445.80,79.32 L446.00,79.06 L446.20,78.85 L446.40,78.70 L446.60,78.65 L446.80,78.71 L447.00,78.87 L447.20,79.11 L447.40,79.39 L447.60,79.67 L447.80,79.91 L448.00,80.07 L448.20,80.12 L448.40,80.07 L448.60,79.93 L448.80,79.71 L449.00,79.46 L449.20,79.21 L449.40,78.99 L449.60,78.85 L449.80,78.80 L450.00,78.85 L450.20,79.01 L450.40,79.25 L450.60,79.53 L450.80,79.81 L451.00,80.05 L451.20,80.21 L451.40,80.27 L451.60,80.22 L451.80,80.07 L452.00,79.85 L452.20,79.60 L452.40,79.34 L452.60,79.12 L452.80,78.98 L453.00,78.93 L453.20,78.98 L453.40,79.13 L453.60,79.36 L453.80,79.63 L454.00,79.90 L454.20,80.13 L454.40,80.28 L454.60,80.33 L454.80,80.28 L455.00,80.12 L455.20,79.88 L455.40,79.60 L455.60,79.32 L455.80,79.09 L456.00,78.93 L456.20,78.87 L456.40,78.92 L456.60,79.06 L456.80,79.27 L457.00,79.51 L457.20,79.76 L457.40,79.96 L457.60,80.10 L457.80,80.15 L458.00,80.09 L458.20,79.92 L458.40,79.66 L458.60,79.36 L458.80,79.06 L459.00,78.80 L459.20,78.63 L459.40,78.57 L459.60,78.61 L459.80,78.74 L460.00,78.93 L460.20,79.15 L460.40,79.37 L460.60,79.56 L460.80,79.68 L461.00,79.73 L464.00,78.60 L466.00,77.20 L468.00,75.00 L470.00,71.80 L472.00,67.80 L474.00,63.20 L475.50,59.60 L476.50,57.40 L477.50,56.30 L478.50,57.20 L480.00,59.00 L483.00,61.50 L484.00,62.30 L484.21,62.28 L484.43,62.23 L484.64,62.15 L484.85,62.06 L485.06,61.96 L485.27,61.89 L485.49,61.83 L485.70,61.81 L485.91,61.90 L486.12,62.14 L486.34,62.50 L486.55,62.92 L486.76,63.34 L486.97,63.70 L487.19,63.94 L487.40,64.02 L487.61,64.00 L487.82,63.92 L488.04,63.81 L488.25,63.68 L488.46,63.55 L488.67,63.44 L488.89,63.37 L489.10,63.34 L489.31,63.42 L489.52,63.64 L489.74,63.97 L489.95,64.36 L490.16,64.75 L490.37,65.08 L490.59,65.30 L490.80,65.38 L491.01,65.35 L491.22,65.26 L491.44,65.12 L491.65,64.96 L491.86,64.80 L492.07,64.66 L492.29,64.57 L492.50,64.54 L492.71,64.61 L492.92,64.82 L493.14,65.13 L493.35,65.49 L493.56,65.85 L493.77,66.16 L493.99,66.37 L494.20,66.44 L494.41,66.40 L494.62,66.30 L494.84,66.14 L495.05,65.96 L495.26,65.78 L495.47,65.62 L495.69,65.52 L495.90,65.48 L496.11,65.55 L496.32,65.74 L496.54,66.03 L496.75,66.38 L496.96,66.72 L497.17,67.01 L497.39,67.20 L497.60,67.27 L497.81,67.23 L498.02,67.12 L498.24,66.95 L498.45,66.74 L498.66,66.54 L498.87,66.37 L499.09,66.26 L499.30,66.22 L499.51,66.28 L499.72,66.47 L499.94,66.74 L500.15,67.07 L500.36,67.40 L500.57,67.67 L500.79,67.86 L501.00,67.92 L501.21,67.88 L501.42,67.76 L501.64,67.58 L501.85,67.36 L502.06,67.14 L502.27,66.96 L502.49,66.84 L502.70,66.80 L502.91,66.86 L503.12,67.04 L503.34,67.30 L503.55,67.62 L503.76,67.93 L503.97,68.20 L504.19,68.37 L504.40,68.44 L504.61,68.39 L504.82,68.26 L505.04,68.07 L505.25,67.84 L505.46,67.62 L505.67,67.42 L505.89,67.30 L506.10,67.25 L506.31,67.31 L506.52,67.48 L506.74,67.74 L506.95,68.04 L507.16,68.35 L507.37,68.61 L507.59,68.78 L507.80,68.84 L508.01,68.79 L508.22,68.66 L508.44,68.46 L508.65,68.22 L508.86,67.99 L509.07,67.79 L509.29,67.65 L509.50,67.61 L509.71,67.66 L509.92,67.83 L510.14,68.08 L510.35,68.38 L510.56,68.68 L510.77,68.93 L510.99,69.09 L511.20,69.15 L511.41,69.11 L511.62,68.97 L511.84,68.76 L512.05,68.52 L512.26,68.28 L512.47,68.07 L512.69,67.93 L512.90,67.88 L513.11,67.94 L513.32,68.11 L513.54,68.35 L513.75,68.64 L513.96,68.93 L514.17,69.18 L514.39,69.34 L514.60,69.40 L514.81,69.35 L515.02,69.21 L515.24,69.00 L515.45,68.75 L515.66,68.50 L515.88,68.29 L516.09,68.15 L516.30,68.10 L516.51,68.16 L516.72,68.32 L516.94,68.56 L517.15,68.85 L517.36,69.13 L517.58,69.38 L517.79,69.54 L518.00,69.59 L518.21,69.54 L518.42,69.40 L518.64,69.19 L518.85,68.94 L519.06,68.68 L519.28,68.47 L519.49,68.33 L519.70,68.28 L519.91,68.33 L520.12,68.49 L520.34,68.73 L520.55,69.01 L520.76,69.29 L520.98,69.53 L521.19,69.69 L521.40,69.75 L521.61,69.70 L521.83,69.55 L522.04,69.33 L522.25,69.08 L522.46,68.82 L522.68,68.61 L522.89,68.46 L523.10,68.41 L523.31,68.47 L523.53,68.62 L523.74,68.86 L523.95,69.14 L524.16,69.42 L524.38,69.65 L524.59,69.81 L524.80,69.87 L525.01,69.81 L525.23,69.67 L525.44,69.45 L525.65,69.19 L525.86,68.93 L526.08,68.71 L526.29,68.57 L526.50,68.52 L526.71,68.57 L526.93,68.73 L527.14,68.96 L527.35,69.24 L527.56,69.51 L527.78,69.75 L527.99,69.90 L528.20,69.96 L528.41,69.91 L528.63,69.76 L528.84,69.54 L529.05,69.28 L529.26,69.02 L529.48,68.80 L529.69,68.65 L529.90,68.60 L530.11,68.65 L530.33,68.81 L530.54,69.04 L530.75,69.32 L530.96,69.59 L531.18,69.82 L531.39,69.98 L531.60,70.03 L531.81,69.98 L532.03,69.83 L532.24,69.61 L532.45,69.35 L532.66,69.09 L532.88,68.86 L533.09,68.72 L533.30,68.66 L533.51,68.72 L533.73,68.87 L533.94,69.10 L534.15,69.38 L534.36,69.65 L534.58,69.88 L534.79,70.04 L535.00,70.09 L535.21,70.04 L535.43,69.89 L535.64,69.67 L535.85,69.40 L536.06,69.14 L536.28,68.92 L536.49,68.77 L536.70,68.71" fill="none" stroke="#EDB120" stroke-width="1.3" stroke-dasharray="2.8,0.8,0.8,0.8" stroke-linejoin="round" />
<path d="M323.60,35.50 L324.50,39.50 L325.50,43.00 L327.00,45.80 L329.00,47.80 L332.00,49.40 L336.00,51.20 L340.00,53.00 L344.00,55.00 L345.00,55.60 L345.60,52.60 L348.00,53.00 L352.00,55.20 L356.00,58.60 L359.00,61.60 L361.00,64.20 L361.00,64.20 L361.00,64.40 L361.21,64.35 L361.41,64.21 L361.62,63.97 L361.83,63.64 L362.03,63.22 L362.24,62.72 L362.45,62.14 L362.65,61.49 L362.86,60.77 L363.07,60.00 L363.27,59.18 L363.48,58.32 L363.69,57.43 L363.89,56.52 L364.10,55.60 L364.31,54.68 L364.51,53.77 L364.72,52.88 L364.93,52.02 L365.13,51.20 L365.34,50.43 L365.55,49.71 L365.75,49.06 L365.96,48.48 L366.17,47.98 L366.37,47.56 L366.58,47.23 L366.79,46.99 L366.99,46.85 L367.20,46.80 L367.40,46.87 L367.61,47.09 L367.81,47.46 L368.02,47.95 L368.22,48.57 L368.43,49.30 L368.63,50.13 L368.84,51.04 L369.04,52.01 L369.25,53.02 L369.45,54.05 L369.65,55.08 L369.86,56.09 L370.06,57.06 L370.27,57.97 L370.47,58.80 L370.68,59.53 L370.88,60.15 L371.09,60.64 L371.29,61.01 L371.50,61.23 L371.70,61.30 L371.90,61.24 L372.10,61.06 L372.30,60.77 L372.50,60.36 L372.70,59.85 L372.90,59.25 L373.10,58.57 L373.30,57.82 L373.50,57.01 L373.70,56.16 L373.90,55.29 L374.10,54.41 L374.30,53.54 L374.50,52.69 L374.70,51.88 L374.90,51.13 L375.10,50.45 L375.30,49.85 L375.50,49.34 L375.70,48.93 L375.90,48.64 L376.10,48.46 L376.30,48.40 L376.50,48.47 L376.71,48.69 L376.91,49.04 L377.12,49.52 L377.32,50.12 L377.53,50.83 L377.73,51.62 L377.94,52.49 L378.14,53.41 L378.35,54.37 L378.55,55.33 L378.76,56.29 L378.96,57.21 L379.17,58.07 L379.37,58.87 L379.58,59.58 L379.78,60.18 L379.99,60.66 L380.19,61.01 L380.40,61.23 L380.60,61.30 L380.81,61.24 L381.02,61.07 L381.23,60.79 L381.43,60.41 L381.64,59.93 L381.85,59.36 L382.06,58.72 L382.27,58.01 L382.48,57.24 L382.69,56.44 L382.90,55.62 L383.10,54.78 L383.31,53.96 L383.52,53.16 L383.73,52.39 L383.94,51.68 L384.15,51.04 L384.36,50.47 L384.57,49.99 L384.77,49.61 L384.98,49.33 L385.19,49.16 L385.40,49.10 L385.60,49.17 L385.80,49.39 L386.00,49.75 L386.20,50.24 L386.40,50.84 L386.60,51.55 L386.80,52.35 L387.00,53.21 L387.20,54.12 L387.40,55.05 L387.60,55.98 L387.80,56.89 L388.00,57.75 L388.20,58.55 L388.40,59.26 L388.60,59.86 L388.80,60.35 L389.00,60.71 L389.20,60.93 L389.40,61.00 L389.60,60.94 L389.80,60.78 L390.00,60.50 L390.20,60.13 L390.40,59.66 L390.60,59.10 L390.80,58.47 L391.00,57.78 L391.20,57.05 L391.40,56.28 L391.60,55.50 L391.80,54.72 L392.00,53.95 L392.20,53.22 L392.40,52.53 L392.60,51.90 L392.80,51.34 L393.00,50.87 L393.20,50.50 L393.40,50.22 L393.60,50.06 L393.80,50.00 L394.01,50.11 L394.21,50.45 L394.42,51.00 L394.63,51.74 L394.83,52.62 L395.04,53.63 L395.25,54.70 L395.45,55.80 L395.66,56.87 L395.87,57.88 L396.07,58.76 L396.28,59.50 L396.49,60.05 L396.69,60.39 L396.90,60.50 L397.10,60.39 L397.30,60.08 L397.50,59.56 L397.70,58.88 L397.90,58.05 L398.10,57.11 L398.30,56.11 L398.50,55.09 L398.70,54.09 L398.90,53.15 L399.10,52.32 L399.30,51.64 L399.50,51.12 L399.70,50.81 L399.90,50.70 L400.10,50.92 L400.30,51.55 L400.50,52.54 L400.70,53.82 L400.90,55.28 L401.10,56.81 L401.30,58.27 L401.50,59.55 L401.70,60.54 L401.90,61.17 L402.10,61.39 L402.32,61.12 L402.54,60.34 L402.76,59.13 L402.98,57.60 L403.20,55.91 L403.42,54.22 L403.64,52.69 L403.86,51.48 L404.08,50.70 L404.30,50.43 L404.52,50.69 L404.74,51.43 L404.96,52.60 L405.18,54.06 L405.40,55.69 L405.62,57.32 L405.84,58.78 L406.06,59.95 L406.28,60.69 L406.50,60.95 L406.72,60.70 L406.94,59.99 L407.16,58.87 L407.38,57.47 L407.60,55.91 L407.82,54.35 L408.04,52.95 L408.26,51.83 L408.48,51.12 L408.70,50.87 L408.92,51.11 L409.14,51.79 L409.36,52.86 L409.58,54.20 L409.80,55.69 L410.02,57.18 L410.24,58.52 L410.46,59.59 L410.68,60.27 L410.90,60.51 L411.12,60.28 L411.34,59.63 L411.56,58.61 L411.78,57.33 L412.00,55.91 L412.22,54.49 L412.44,53.21 L412.66,52.19 L412.88,51.54 L413.10,51.31 L413.32,51.52 L413.54,52.15 L413.76,53.12 L413.98,54.34 L414.20,55.69 L414.42,57.04 L414.64,58.26 L414.86,59.23 L415.08,59.86 L415.30,60.07 L415.52,59.87 L415.74,59.28 L415.96,58.36 L416.18,57.20 L416.40,55.91 L416.62,54.62 L416.84,53.46 L417.06,52.54 L417.28,51.95 L417.50,51.75 L417.72,51.94 L417.94,52.50 L418.16,53.37 L418.38,54.47 L418.60,55.69 L418.82,56.91 L419.04,58.01 L419.26,58.88 L419.48,59.44 L419.70,59.63 L419.92,59.45 L420.14,58.92 L420.36,58.10 L420.58,57.06 L420.80,55.91 L421.02,54.76 L421.24,53.72 L421.46,52.90 L421.68,52.37 L421.90,52.19 L422.10,52.36 L422.30,52.85 L422.50,53.60 L422.70,54.52 L422.90,55.49 L423.10,56.41 L423.30,57.16 L423.50,57.65 L423.70,57.82 L423.91,57.60 L424.13,56.96 L424.34,56.05 L424.56,55.03 L424.77,54.12 L424.99,53.49 L425.20,53.26 L425.41,53.52 L425.63,54.23 L425.84,55.27 L426.06,56.41 L426.27,57.45 L426.49,58.16 L426.70,58.42 L426.91,58.12 L427.13,57.29 L427.34,56.09 L427.56,54.75 L427.77,53.55 L427.99,52.72 L428.20,52.42 L428.41,52.73 L428.63,53.59 L428.84,54.85 L429.06,56.23 L429.27,57.48 L429.49,58.35 L429.70,58.66 L429.91,58.38 L430.13,57.60 L430.34,56.47 L430.56,55.21 L430.77,54.08 L430.99,53.30 L431.20,53.02 L431.41,53.26 L431.63,53.93 L431.84,54.89 L432.06,55.95 L432.27,56.92 L432.49,57.58 L432.70,57.82 L432.91,57.59 L433.13,56.96 L433.34,56.05 L433.56,55.03 L433.77,54.12 L433.99,53.48 L434.20,53.26 L434.41,53.51 L434.63,54.23 L434.84,55.27 L435.06,56.42 L435.27,57.45 L435.49,58.17 L435.70,58.43 L435.91,58.13 L436.13,57.30 L436.34,56.09 L436.56,54.75 L436.77,53.55 L436.99,52.72 L437.20,52.42 L437.41,52.73 L437.63,53.59 L437.84,54.84 L438.06,56.23 L438.27,57.48 L438.49,58.35 L438.70,58.65 L438.91,58.38 L439.13,57.60 L439.34,56.47 L439.56,55.22 L439.77,54.09 L439.99,53.31 L440.20,53.03 L440.41,53.27 L440.63,53.93 L440.84,54.89 L441.06,55.96 L441.27,56.92 L441.49,57.58 L441.70,57.82 L441.91,57.59 L442.13,56.96 L442.34,56.04 L442.56,55.03 L442.77,54.11 L442.99,53.48 L443.20,53.25 L443.41,53.51 L443.63,54.23 L443.84,55.27 L444.06,56.42 L444.27,57.46 L444.49,58.18 L444.70,58.43 L444.91,58.14 L445.13,57.30 L445.34,56.09 L445.56,54.76 L445.77,53.55 L445.99,52.71 L446.20,52.42 L446.41,52.72 L446.63,53.58 L446.84,54.83 L447.06,56.21 L447.27,57.46 L447.49,58.32 L447.70,58.62 L447.91,58.34 L448.13,57.56 L448.34,56.42 L448.56,55.16 L448.77,54.02 L448.99,53.24 L449.20,52.96 L449.41,53.19 L449.63,53.84 L449.84,54.78 L450.06,55.82 L450.27,56.76 L450.49,57.41 L450.70,57.64 L450.91,57.40 L451.13,56.75 L451.34,55.81 L451.56,54.76 L451.77,53.82 L451.99,53.17 L452.20,52.94 L452.41,53.19 L452.63,53.88 L452.84,54.89 L453.06,56.01 L453.27,57.02 L453.49,57.72 L453.70,57.97 L453.91,57.66 L454.13,56.80 L454.34,55.55 L454.56,54.16 L454.77,52.91 L454.99,52.04 L455.20,51.74 L455.41,52.03 L455.63,52.86 L455.84,54.06 L456.06,55.40 L456.27,56.60 L456.49,57.43 L456.70,57.73 L456.91,57.44 L457.13,56.62 L457.34,55.44 L457.56,54.14 L457.77,52.96 L457.99,52.15 L458.20,51.86 L458.41,52.08 L458.63,52.69 L458.84,53.59 L459.06,54.58 L459.27,55.47 L459.49,56.09 L459.70,56.31 L459.91,56.07 L460.13,55.38 L460.34,54.40 L460.56,53.30 L460.77,52.32 L460.99,51.63 L461.20,51.39 L461.41,51.63 L461.63,52.30 L461.84,53.27 L462.06,54.34 L462.27,55.31 L462.49,55.98 L462.70,56.22 L462.91,55.90 L463.13,55.00 L463.34,53.71 L463.56,52.27 L463.77,50.98 L463.99,50.08 L464.20,49.76 L466.50,51.80 L468.00,50.60 L470.00,48.60 L472.00,45.30 L473.50,41.50 L475.00,35.00 L476.30,29.50 L477.40,27.10 L478.40,29.50 L479.10,34.00 L480.00,40.30 L480.21,40.05 L480.43,39.35 L480.64,38.35 L480.86,37.23 L481.07,36.22 L481.29,35.52 L481.50,35.27 L481.71,35.57 L481.93,36.42 L482.14,37.65 L482.36,39.01 L482.57,40.24 L482.79,41.08 L483.00,41.39 L483.21,41.13 L483.43,40.42 L483.64,39.39 L483.86,38.25 L484.07,37.22 L484.29,36.51 L484.50,36.26 L484.71,36.55 L484.93,37.39 L485.14,38.60 L485.36,39.94 L485.57,41.14 L485.79,41.98 L486.00,42.28 L486.21,42.02 L486.43,41.30 L486.64,40.25 L486.86,39.09 L487.07,38.04 L487.29,37.32 L487.50,37.06 L487.71,37.36 L487.93,38.18 L488.14,39.37 L488.36,40.70 L488.57,41.89 L488.79,42.71 L489.00,43.01 L489.21,42.75 L489.43,42.01 L489.64,40.95 L489.86,39.78 L490.07,38.72 L490.29,37.98 L490.50,37.72 L490.71,37.93 L490.93,38.53 L491.14,39.39 L491.36,40.34 L491.57,41.20 L491.79,41.79 L492.00,42.00 L492.21,41.90 L492.43,41.60 L492.64,41.17 L492.86,40.69 L493.07,40.26 L493.29,39.97 L493.50,39.86 L493.71,39.99 L493.93,40.36 L494.14,40.88 L494.36,41.47 L494.57,42.00 L494.79,42.36 L495.00,42.49 L495.21,42.38 L495.43,42.08 L495.64,41.64 L495.86,41.15 L496.07,40.72 L496.29,40.41 L496.50,40.30 L496.71,40.43 L496.93,40.79 L497.14,41.31 L497.36,41.89 L497.57,42.41 L497.79,42.76 L498.00,42.89 L498.21,42.78 L498.43,42.47 L498.64,42.03 L498.86,41.53 L499.07,41.08 L499.29,40.78 L499.50,40.66 L499.71,40.79 L499.93,41.15 L500.14,41.66 L500.36,42.23 L500.57,42.74 L500.79,43.09 L501.00,43.22 L501.21,43.11 L501.43,42.80 L501.64,42.34 L501.86,41.84 L502.07,41.39 L502.29,41.07 L502.50,40.96 L502.71,41.09 L502.93,41.44 L503.14,41.94 L503.36,42.51 L503.57,43.01 L503.79,43.36 L504.00,43.49 L504.21,43.38 L504.43,43.06 L504.64,42.60 L504.86,42.09 L505.07,41.63 L505.29,41.32 L505.50,41.20 L505.71,41.33 L505.93,41.68 L506.14,42.18 L506.36,42.73 L506.57,43.24 L506.79,43.58 L507.00,43.71 L507.21,43.59 L507.43,43.27 L507.64,42.81 L507.86,42.30 L508.07,41.84 L508.29,41.52 L508.50,41.40 L508.71,41.53 L508.93,41.87 L509.14,42.37 L509.36,42.92 L509.57,43.42 L509.79,43.76 L510.00,43.89 L510.21,43.77 L510.43,43.45 L510.64,42.99 L510.86,42.47 L511.07,42.00 L511.29,41.68 L511.50,41.57 L511.71,41.69 L511.93,42.03 L512.14,42.53 L512.36,43.08 L512.57,43.57 L512.79,43.91 L513.00,44.04 L513.21,43.92 L513.43,43.60 L513.64,43.13 L513.86,42.61 L514.07,42.14 L514.29,41.81 L514.50,41.70 L514.71,41.87 L514.93,42.35 L515.14,43.04 L515.36,43.81 L515.57,44.50 L515.79,44.98 L516.00,45.16 L516.21,44.94 L516.43,44.34 L516.64,43.47 L516.86,42.50 L517.07,41.63 L517.29,41.02 L517.50,40.81 L517.71,41.03 L517.93,41.64 L518.14,42.54 L518.36,43.53 L518.57,44.42 L518.79,45.03 L519.00,45.25 L519.21,45.04 L519.43,44.43 L519.64,43.56 L519.86,42.59 L520.07,41.72 L520.29,41.11 L520.50,40.90 L520.71,41.12 L520.93,41.73 L521.14,42.62 L521.36,43.61 L521.57,44.50 L521.79,45.12 L522.00,45.34 L522.21,45.12 L522.43,44.51 L522.64,43.64 L522.86,42.67 L523.07,41.79 L523.29,41.19 L523.50,40.97 L523.71,41.19 L523.93,41.80 L524.14,42.69 L524.36,43.68 L524.57,44.57 L524.79,45.18 L525.00,45.40 L525.21,45.18 L525.43,44.58 L525.64,43.70 L525.86,42.73 L526.07,41.85 L526.29,41.25 L526.50,41.03 L526.71,41.25 L526.93,41.86 L527.14,42.75 L527.36,43.73 L527.57,44.62 L527.79,45.24 L528.00,45.46 L528.21,45.24 L528.43,44.63 L528.64,43.75 L528.86,42.78 L529.07,41.90 L529.29,41.30 L529.50,41.08 L529.71,41.30 L529.93,41.91 L530.14,42.80 L530.36,43.78 L530.57,44.67 L530.79,45.28 L531.00,45.50 L531.21,45.28 L531.43,44.68 L531.64,43.80 L531.86,42.82 L532.07,41.94 L532.29,41.34 L532.50,41.12 L532.71,41.34 L532.93,41.95 L533.14,42.84 L533.36,43.82 L533.57,44.70 L533.79,45.32 L534.00,45.54 L536.50,40.00 L537.20,37.80" fill="none" stroke="#7E2F8E" stroke-width="1.45" stroke-dasharray="2.8,0.8,0.8,0.8" stroke-linejoin="round" />
</g>
<rect x="323.6" y="10.0" width="215.8" height="91.0" fill="none" stroke="#333" stroke-width="0.9"/>
<text x="345.1" y="75.6" font-size="10.6" text-anchor="middle" font-weight="bold" fill="#787878" stroke="#787878" stroke-width="0.3" >E</text>
<text x="381.3" y="75.6" font-size="10.6" text-anchor="middle" font-weight="bold" fill="#787878" stroke="#787878" stroke-width="0.3" >B</text>
<text x="465.4" y="75.8" font-size="10.6" text-anchor="middle" font-weight="bold" fill="#787878" stroke="#787878" stroke-width="0.3" >C</text>
<rect x="327.6" y="11.7" width="50.4" height="31.5" fill="#fff" stroke="#333" stroke-width="0.7"/>
<line x1="328.6" y1="15.9" x2="343.5" y2="15.9" stroke="#0072BD" stroke-width="1.6"/>
<text x="345.2" y="18.2" font-size="6.45" text-anchor="start" font-weight="bold" fill="#1a1a1a" stroke="#1a1a1a" stroke-width="0.3" >Vce = 1V</text>
<line x1="328.6" y1="23.8" x2="343.5" y2="23.8" stroke="#D95319" stroke-width="1.4" stroke-dasharray="3.6,3.4"/>
<text x="345.2" y="26.1" font-size="6.45" text-anchor="start" font-weight="bold" fill="#1a1a1a" stroke="#1a1a1a" stroke-width="0.3" >Vce = 1.6V</text>
<line x1="328.6" y1="31.4" x2="343.5" y2="31.4" stroke="#EDB120" stroke-width="1.3" stroke-dasharray="2.8,0.8,0.8,0.8"/>
<text x="345.2" y="33.7" font-size="6.45" text-anchor="start" font-weight="bold" fill="#1a1a1a" stroke="#1a1a1a" stroke-width="0.3" >Vce = 1.8V</text>
<line x1="328.6" y1="39.0" x2="343.5" y2="39.0" stroke="#7E2F8E" stroke-width="1.45" stroke-dasharray="2.8,0.8,0.8,0.8"/>
<text x="345.2" y="41.3" font-size="6.45" text-anchor="start" font-weight="bold" fill="#1a1a1a" stroke="#1a1a1a" stroke-width="0.3" >Vce = 2V</text>
<linearGradient id="jetg" x1="0" y1="0" x2="0" y2="1"><stop offset="0.00" stop-color="#7f0000"/><stop offset="0.05" stop-color="#b20000"/><stop offset="0.10" stop-color="#e50000"/><stop offset="0.15" stop-color="#ff1900"/><stop offset="0.20" stop-color="#ff4c00"/><stop offset="0.25" stop-color="#ff7f00"/><stop offset="0.30" stop-color="#ffb200"/><stop offset="0.35" stop-color="#ffe500"/><stop offset="0.40" stop-color="#e5ff19"/><stop offset="0.45" stop-color="#b2ff4c"/><stop offset="0.50" stop-color="#7fff7f"/><stop offset="0.55" stop-color="#4cffb2"/><stop offset="0.60" stop-color="#19ffe5"/><stop offset="0.65" stop-color="#00e5ff"/><stop offset="0.70" stop-color="#00b2ff"/><stop offset="0.75" stop-color="#007fff"/><stop offset="0.80" stop-color="#004cff"/><stop offset="0.85" stop-color="#0019ff"/><stop offset="0.90" stop-color="#0000e5"/><stop offset="0.95" stop-color="#0000b2"/><stop offset="1.00" stop-color="#00007f"/></linearGradient>
<clipPath id="cc"><rect x="35.8" y="205.0" width="123.60" height="97.40"/></clipPath>
<rect x="35.8" y="205.0" width="123.60" height="97.40" fill="#8FFF70"/>
<g clip-path="url(#cc)">
<path d="M35.80,229.70 L58.90,228.50 L60.40,228.40 L60.40,229.20 L49.80,230.10 L41.80,233.20 L38.30,235.30 L36.60,237.60 L35.80,238.80 Z" fill="#8c1a04" fill-opacity="0.85"/>
<path d="M35.8,230.5 Q43.8,229.7 57.4,228.6" stroke="#5c0000" stroke-width="0.7" fill="none"/>
<path d="M35.8,232.0 Q43.8,231.2 57.4,228.8" stroke="#5c0000" stroke-width="0.7" fill="none"/>
<path d="M35.8,233.5 Q43.8,232.7 57.4,229.0" stroke="#5c0000" stroke-width="0.7" fill="none"/>
<path d="M35.8,235.0 Q43.8,234.2 57.4,229.2" stroke="#5c0000" stroke-width="0.7" fill="none"/>
<path d="M36.00,238.80 L37.00,236.40 L38.80,234.50 L42.80,233.00 L50.80,231.90 L60.40,229.60" fill="none" stroke="#ff3a0a" stroke-width="1.3" stroke-linejoin="round" />
<path d="M60.30,229.20 L60.50,238.40 L78.20,240.50 L83.00,242.70 L90.50,247.10 L90.70,237.70 L95.00,240.90 L100.00,244.50 L104.00,247.10 L108.00,247.70 L113.00,249.10 L118.00,250.90 L122.00,252.90 L126.00,254.50 L132.00,257.60 L139.00,262.50 L145.00,266.80 L150.00,270.60 L155.00,275.00 L158.00,278.50 L160.00,281.50" fill="none" stroke="#D95319" stroke-width="1.3" stroke-linejoin="round" />
<path d="M35.80,208.60 L37.30,206.80 L39.40,205.20" fill="none" stroke="#E8420E" stroke-width="1.3" stroke-linejoin="round" />
<path d="M80.50,204.50 L81.40,205.60 L84.00,207.00 L87.00,208.80 L89.30,209.90 L90.50,209.20 L93.00,210.60 L96.00,212.90 L100.00,216.10 L103.00,218.30 L106.00,218.80 L110.00,219.70 L115.00,221.10 L120.00,222.70 L125.00,224.60 L130.00,227.10 L135.00,230.20 L139.00,233.00 L145.00,237.60 L150.00,241.80 L155.00,246.30 L158.00,249.20 L160.00,251.50" fill="none" stroke="#D95319" stroke-width="1.1" stroke-dasharray="2.6,0.9,0.8,0.9" stroke-linejoin="round" />
<path d="M103.00,204.80 L104.50,205.50 L110.00,206.50 L115.00,207.90 L120.00,209.40 L125.00,211.50 L130.00,214.20 L135.00,218.20 L139.00,221.50 L145.00,226.00 L150.00,229.80 L155.00,233.60 L158.00,236.50 L160.00,238.50" fill="none" stroke="#E04A18" stroke-width="0.95" stroke-dasharray="0.8,0.8" stroke-linejoin="round" />
</g>
<line x1="60.58" y1="205.0" x2="60.58" y2="302.4" stroke="#6c6c7c" stroke-width="0.9" stroke-dasharray="2.4,0.8,0.9,0.8"/>
<line x1="77.93" y1="205.0" x2="77.93" y2="302.4" stroke="#6c6c7c" stroke-width="0.9" stroke-dasharray="2.4,0.8,0.9,0.8"/>
<line x1="35.8" y1="205.0" x2="35.8" y2="302.4" stroke="#0072BD" stroke-width="1.0"/>
<line x1="159.4" y1="205.0" x2="159.4" y2="302.4" stroke="#D95319" stroke-width="1.0"/>
<line x1="35.8" y1="302.4" x2="159.4" y2="302.4" stroke="#333" stroke-width="0.8"/>
<line x1="35.8" y1="205.35" x2="159.4" y2="205.35" stroke="#333" stroke-width="0.9"/>
<line x1="35.80" y1="302.4" x2="35.80" y2="301.09999999999997" stroke="#333" stroke-width="0.6"/>
<line x1="35.80" y1="205.0" x2="35.80" y2="206.3" stroke="#333" stroke-width="0.6"/>
<line x1="42.00" y1="302.4" x2="42.00" y2="301.09999999999997" stroke="#333" stroke-width="0.6"/>
<line x1="42.00" y1="205.0" x2="42.00" y2="206.3" stroke="#333" stroke-width="0.6"/>
<line x1="48.19" y1="302.4" x2="48.19" y2="301.09999999999997" stroke="#333" stroke-width="0.6"/>
<line x1="48.19" y1="205.0" x2="48.19" y2="206.3" stroke="#333" stroke-width="0.6"/>
<line x1="54.39" y1="302.4" x2="54.39" y2="301.09999999999997" stroke="#333" stroke-width="0.6"/>
<line x1="54.39" y1="205.0" x2="54.39" y2="206.3" stroke="#333" stroke-width="0.6"/>
<line x1="60.58" y1="302.4" x2="60.58" y2="301.09999999999997" stroke="#333" stroke-width="0.6"/>
<line x1="60.58" y1="205.0" x2="60.58" y2="206.3" stroke="#333" stroke-width="0.6"/>
<line x1="66.78" y1="302.4" x2="66.78" y2="301.09999999999997" stroke="#333" stroke-width="0.6"/>
<line x1="66.78" y1="205.0" x2="66.78" y2="206.3" stroke="#333" stroke-width="0.6"/>
<line x1="72.97" y1="302.4" x2="72.97" y2="301.09999999999997" stroke="#333" stroke-width="0.6"/>
<line x1="72.97" y1="205.0" x2="72.97" y2="206.3" stroke="#333" stroke-width="0.6"/>
<line x1="79.17" y1="302.4" x2="79.17" y2="301.09999999999997" stroke="#333" stroke-width="0.6"/>
<line x1="79.17" y1="205.0" x2="79.17" y2="206.3" stroke="#333" stroke-width="0.6"/>
<line x1="85.36" y1="302.4" x2="85.36" y2="301.09999999999997" stroke="#333" stroke-width="0.6"/>
<line x1="85.36" y1="205.0" x2="85.36" y2="206.3" stroke="#333" stroke-width="0.6"/>
<line x1="91.56" y1="302.4" x2="91.56" y2="301.09999999999997" stroke="#333" stroke-width="0.6"/>
<line x1="91.56" y1="205.0" x2="91.56" y2="206.3" stroke="#333" stroke-width="0.6"/>
<line x1="97.75" y1="302.4" x2="97.75" y2="301.09999999999997" stroke="#333" stroke-width="0.6"/>
<line x1="97.75" y1="205.0" x2="97.75" y2="206.3" stroke="#333" stroke-width="0.6"/>
<line x1="103.95" y1="302.4" x2="103.95" y2="301.09999999999997" stroke="#333" stroke-width="0.6"/>
<line x1="103.95" y1="205.0" x2="103.95" y2="206.3" stroke="#333" stroke-width="0.6"/>
<line x1="110.15" y1="302.4" x2="110.15" y2="301.09999999999997" stroke="#333" stroke-width="0.6"/>
<line x1="110.15" y1="205.0" x2="110.15" y2="206.3" stroke="#333" stroke-width="0.6"/>
<line x1="116.34" y1="302.4" x2="116.34" y2="301.09999999999997" stroke="#333" stroke-width="0.6"/>
<line x1="116.34" y1="205.0" x2="116.34" y2="206.3" stroke="#333" stroke-width="0.6"/>
<line x1="122.54" y1="302.4" x2="122.54" y2="301.09999999999997" stroke="#333" stroke-width="0.6"/>
<line x1="122.54" y1="205.0" x2="122.54" y2="206.3" stroke="#333" stroke-width="0.6"/>
<line x1="128.73" y1="302.4" x2="128.73" y2="301.09999999999997" stroke="#333" stroke-width="0.6"/>
<line x1="128.73" y1="205.0" x2="128.73" y2="206.3" stroke="#333" stroke-width="0.6"/>
<line x1="134.93" y1="302.4" x2="134.93" y2="301.09999999999997" stroke="#333" stroke-width="0.6"/>
<line x1="134.93" y1="205.0" x2="134.93" y2="206.3" stroke="#333" stroke-width="0.6"/>
<line x1="141.12" y1="302.4" x2="141.12" y2="301.09999999999997" stroke="#333" stroke-width="0.6"/>
<line x1="141.12" y1="205.0" x2="141.12" y2="206.3" stroke="#333" stroke-width="0.6"/>
<line x1="147.32" y1="302.4" x2="147.32" y2="301.09999999999997" stroke="#333" stroke-width="0.6"/>
<line x1="147.32" y1="205.0" x2="147.32" y2="206.3" stroke="#333" stroke-width="0.6"/>
<line x1="153.51" y1="302.4" x2="153.51" y2="301.09999999999997" stroke="#333" stroke-width="0.6"/>
<line x1="153.51" y1="205.0" x2="153.51" y2="206.3" stroke="#333" stroke-width="0.6"/>
<text x="32.0" y="219.7" font-size="10.0" text-anchor="end" font-weight="bold" fill="#0072BD" stroke="#0072BD" stroke-width="0.3" >2.5</text>
<text x="162.6" y="219.7" font-size="10.0" text-anchor="start" font-weight="bold" fill="#D95319" stroke="#D95319" stroke-width="0.3" >2.5</text>
<text x="32.0" y="243.8" font-size="10.0" text-anchor="end" font-weight="bold" fill="#0072BD" stroke="#0072BD" stroke-width="0.3" >2</text>
<text x="162.6" y="243.8" font-size="10.0" text-anchor="start" font-weight="bold" fill="#D95319" stroke="#D95319" stroke-width="0.3" >2</text>
<text x="32.0" y="268.4" font-size="10.0" text-anchor="end" font-weight="bold" fill="#0072BD" stroke="#0072BD" stroke-width="0.3" >1.5</text>
<text x="162.6" y="268.4" font-size="10.0" text-anchor="start" font-weight="bold" fill="#D95319" stroke="#D95319" stroke-width="0.3" >1.5</text>
<text x="32.0" y="292.7" font-size="10.0" text-anchor="end" font-weight="bold" fill="#0072BD" stroke="#0072BD" stroke-width="0.3" >1</text>
<text x="162.6" y="292.7" font-size="10.0" text-anchor="start" font-weight="bold" fill="#D95319" stroke="#D95319" stroke-width="0.3" >1</text>
<text x="35.3" y="317.2" font-size="10.5" text-anchor="middle" font-weight="bold" fill="#1a1a1a" stroke="#1a1a1a" stroke-width="0.3" >250</text>
<text x="66.5" y="317.2" font-size="10.5" text-anchor="middle" font-weight="bold" fill="#1a1a1a" stroke="#1a1a1a" stroke-width="0.3" >300</text>
<text x="97.9" y="317.2" font-size="10.5" text-anchor="middle" font-weight="bold" fill="#1a1a1a" stroke="#1a1a1a" stroke-width="0.3" >350</text>
<text x="129.1" y="317.2" font-size="10.5" text-anchor="middle" font-weight="bold" fill="#1a1a1a" stroke="#1a1a1a" stroke-width="0.3" >400</text>
<text x="97.5" y="330.6" font-size="11.4" text-anchor="middle" font-weight="bold" fill="#1a1a1a" stroke="#1a1a1a" stroke-width="0.3" >x (nm)</text>
<text transform="translate(12.3,254.2) rotate(-90)" font-size="11.4" text-anchor="middle" font-weight="bold" fill="#0072BD">E (eV)</text>
<text x="47.8" y="282.1" font-size="11.7" text-anchor="middle" fill="#776a82" stroke="#776a82" stroke-width="0.3">E</text>
<text x="68.5" y="282.1" font-size="11.7" text-anchor="middle" fill="#776a82" stroke="#776a82" stroke-width="0.3">B</text>
<text x="112.1" y="282.1" font-size="11.7" text-anchor="middle" fill="#776a82" stroke="#776a82" stroke-width="0.3">C</text>
<text x="70.7" y="195.2" font-size="11.3" text-anchor="start" font-weight="bold" fill="#111" stroke="#111" stroke-width="0.3" >V</text>
<text x="79.0" y="200.6" font-size="9.3" text-anchor="start" font-weight="bold" fill="#111" stroke="#111" stroke-width="0.3" >CE</text>
<text x="95.6" y="195.2" font-size="11.3" text-anchor="start" font-weight="bold" fill="#111" stroke="#111" stroke-width="0.3" >=</text>
<text x="106.1" y="195.2" font-size="11.3" text-anchor="start" font-weight="bold" fill="#111" stroke="#111" stroke-width="0.3" letter-spacing="0.3">1</text>
<text x="116.0" y="195.2" font-size="11.3" text-anchor="start" font-weight="bold" fill="#111" stroke="#111" stroke-width="0.3" >V</text>
<rect x="183.4" y="205.4" width="11.7" height="97.3" fill="url(#jetg)" stroke="#333" stroke-width="0.5"/>
<text x="197.9" y="214.0" font-size="8.4" text-anchor="start" font-weight="bold" fill="#111" stroke="#111" stroke-width="0.3" >2</text>
<line x1="195.1" y1="211.0" x2="193.9" y2="211.0" stroke="#333" stroke-width="0.5"/>
<text x="197.9" y="235.9" font-size="8.4" text-anchor="start" font-weight="bold" fill="#111" stroke="#111" stroke-width="0.3" >1</text>
<line x1="195.1" y1="232.9" x2="193.9" y2="232.9" stroke="#333" stroke-width="0.5"/>
<text x="197.9" y="257.4" font-size="8.4" text-anchor="start" font-weight="bold" fill="#111" stroke="#111" stroke-width="0.3" >0</text>
<line x1="195.1" y1="254.4" x2="193.9" y2="254.4" stroke="#333" stroke-width="0.5"/>
<text x="197.9" y="279.8" font-size="8.4" text-anchor="start" font-weight="bold" fill="#111" stroke="#111" stroke-width="0.3" >-1</text>
<line x1="195.1" y1="276.8" x2="193.9" y2="276.8" stroke="#333" stroke-width="0.5"/>
<text x="197.9" y="301.0" font-size="8.4" text-anchor="start" font-weight="bold" fill="#111" stroke="#111" stroke-width="0.3" >-2</text>
<line x1="195.1" y1="298.0" x2="193.9" y2="298.0" stroke="#333" stroke-width="0.5"/>
<text x="196.4" y="201.6" font-size="9.8" fill="#111">×10<tspan font-size="7.4" dy="-3.7">-3</tspan></text>
<clipPath id="cd"><rect x="345.5" y="205.3" width="114.90" height="92.90"/></clipPath>
<rect x="345.5" y="205.3" width="114.90" height="92.90" fill="#8FFF70"/>
<g clip-path="url(#cd)">
<path d="M345.50,229.00 L366.80,227.80 L368.30,227.70 L368.30,228.50 L359.50,229.20 L351.50,231.70 L348.00,233.80 L346.30,236.10 L345.50,237.30 Z" fill="#8c1a04" fill-opacity="0.85"/>
<path d="M345.5,229.8 Q353.5,229.0 365.3,227.9" stroke="#5c0000" stroke-width="0.7" fill="none"/>
<path d="M345.5,231.3 Q353.5,230.5 365.3,228.1" stroke="#5c0000" stroke-width="0.7" fill="none"/>
<path d="M345.5,232.8 Q353.5,232.0 365.3,228.3" stroke="#5c0000" stroke-width="0.7" fill="none"/>
<path d="M345.5,234.3 Q353.5,233.5 365.3,228.5" stroke="#5c0000" stroke-width="0.7" fill="none"/>
<path d="M345.70,237.30 L346.70,234.90 L348.50,233.00 L352.50,231.50 L360.50,230.40 L368.30,228.90" fill="none" stroke="#ff3a0a" stroke-width="1.3" stroke-linejoin="round" />
<path d="M368.20,228.40 L368.50,236.40 L385.00,239.30 L396.50,249.40 L396.80,240.80 L403.00,248.50 L408.00,253.90 L415.00,257.50 L420.00,262.00 L425.00,266.50 L430.00,271.50 L435.00,277.50 L440.00,283.50 L445.00,290.00 L450.00,296.50 L452.00,299.50" fill="none" stroke="#D95319" stroke-width="1.3" stroke-linejoin="round" />
<path d="M345.50,208.90 L347.00,207.10 L349.10,205.50" fill="none" stroke="#E8420E" stroke-width="1.3" stroke-linejoin="round" />
<path d="M386.50,204.50 L388.00,205.60 L392.00,209.80 L395.00,213.10 L397.00,213.60 L400.00,217.20 L405.00,223.20 L410.00,227.50 L415.00,230.40 L420.00,234.00 L425.00,238.30 L430.00,243.30 L435.00,248.70 L440.00,254.10 L445.00,260.00 L450.00,266.50 L455.00,273.20 L460.00,281.00 L461.00,283.00" fill="none" stroke="#D95319" stroke-width="1.1" stroke-dasharray="2.6,0.9,0.8,0.9" stroke-linejoin="round" />
<path d="M399.00,204.80 L400.00,205.90 L405.00,210.90 L410.00,215.20 L415.00,218.90 L420.00,222.50 L425.00,226.00 L430.00,231.10 L435.00,236.90 L440.00,243.30 L445.00,249.80 L450.00,256.60 L455.00,263.20 L460.00,271.00 L461.00,273.00" fill="none" stroke="#E04A18" stroke-width="0.95" stroke-dasharray="0.8,0.8" stroke-linejoin="round" />
</g>
<line x1="368.54" y1="205.3" x2="368.54" y2="298.2" stroke="#6c6c7c" stroke-width="0.9" stroke-dasharray="2.4,0.8,0.9,0.8"/>
<line x1="384.66" y1="205.3" x2="384.66" y2="298.2" stroke="#6c6c7c" stroke-width="0.9" stroke-dasharray="2.4,0.8,0.9,0.8"/>
<line x1="345.5" y1="205.3" x2="345.5" y2="298.2" stroke="#0072BD" stroke-width="1.0"/>
<line x1="460.4" y1="205.3" x2="460.4" y2="298.2" stroke="#D95319" stroke-width="1.0"/>
<line x1="345.5" y1="298.2" x2="460.4" y2="298.2" stroke="#333" stroke-width="0.8"/>
<line x1="345.5" y1="205.65" x2="460.4" y2="205.65" stroke="#333" stroke-width="0.9"/>
<line x1="345.50" y1="298.2" x2="345.50" y2="296.9" stroke="#333" stroke-width="0.6"/>
<line x1="345.50" y1="205.3" x2="345.50" y2="206.60000000000002" stroke="#333" stroke-width="0.6"/>
<line x1="351.26" y1="298.2" x2="351.26" y2="296.9" stroke="#333" stroke-width="0.6"/>
<line x1="351.26" y1="205.3" x2="351.26" y2="206.60000000000002" stroke="#333" stroke-width="0.6"/>
<line x1="357.02" y1="298.2" x2="357.02" y2="296.9" stroke="#333" stroke-width="0.6"/>
<line x1="357.02" y1="205.3" x2="357.02" y2="206.60000000000002" stroke="#333" stroke-width="0.6"/>
<line x1="362.78" y1="298.2" x2="362.78" y2="296.9" stroke="#333" stroke-width="0.6"/>
<line x1="362.78" y1="205.3" x2="362.78" y2="206.60000000000002" stroke="#333" stroke-width="0.6"/>
<line x1="368.54" y1="298.2" x2="368.54" y2="296.9" stroke="#333" stroke-width="0.6"/>
<line x1="368.54" y1="205.3" x2="368.54" y2="206.60000000000002" stroke="#333" stroke-width="0.6"/>
<line x1="374.30" y1="298.2" x2="374.30" y2="296.9" stroke="#333" stroke-width="0.6"/>
<line x1="374.30" y1="205.3" x2="374.30" y2="206.60000000000002" stroke="#333" stroke-width="0.6"/>
<line x1="380.06" y1="298.2" x2="380.06" y2="296.9" stroke="#333" stroke-width="0.6"/>
<line x1="380.06" y1="205.3" x2="380.06" y2="206.60000000000002" stroke="#333" stroke-width="0.6"/>
<line x1="385.82" y1="298.2" x2="385.82" y2="296.9" stroke="#333" stroke-width="0.6"/>
<line x1="385.82" y1="205.3" x2="385.82" y2="206.60000000000002" stroke="#333" stroke-width="0.6"/>
<line x1="391.58" y1="298.2" x2="391.58" y2="296.9" stroke="#333" stroke-width="0.6"/>
<line x1="391.58" y1="205.3" x2="391.58" y2="206.60000000000002" stroke="#333" stroke-width="0.6"/>
<line x1="397.33" y1="298.2" x2="397.33" y2="296.9" stroke="#333" stroke-width="0.6"/>
<line x1="397.33" y1="205.3" x2="397.33" y2="206.60000000000002" stroke="#333" stroke-width="0.6"/>
<line x1="403.09" y1="298.2" x2="403.09" y2="296.9" stroke="#333" stroke-width="0.6"/>
<line x1="403.09" y1="205.3" x2="403.09" y2="206.60000000000002" stroke="#333" stroke-width="0.6"/>
<line x1="408.85" y1="298.2" x2="408.85" y2="296.9" stroke="#333" stroke-width="0.6"/>
<line x1="408.85" y1="205.3" x2="408.85" y2="206.60000000000002" stroke="#333" stroke-width="0.6"/>
<line x1="414.61" y1="298.2" x2="414.61" y2="296.9" stroke="#333" stroke-width="0.6"/>
<line x1="414.61" y1="205.3" x2="414.61" y2="206.60000000000002" stroke="#333" stroke-width="0.6"/>
<line x1="420.37" y1="298.2" x2="420.37" y2="296.9" stroke="#333" stroke-width="0.6"/>
<line x1="420.37" y1="205.3" x2="420.37" y2="206.60000000000002" stroke="#333" stroke-width="0.6"/>
<line x1="426.13" y1="298.2" x2="426.13" y2="296.9" stroke="#333" stroke-width="0.6"/>
<line x1="426.13" y1="205.3" x2="426.13" y2="206.60000000000002" stroke="#333" stroke-width="0.6"/>
<line x1="431.89" y1="298.2" x2="431.89" y2="296.9" stroke="#333" stroke-width="0.6"/>
<line x1="431.89" y1="205.3" x2="431.89" y2="206.60000000000002" stroke="#333" stroke-width="0.6"/>
<line x1="437.65" y1="298.2" x2="437.65" y2="296.9" stroke="#333" stroke-width="0.6"/>
<line x1="437.65" y1="205.3" x2="437.65" y2="206.60000000000002" stroke="#333" stroke-width="0.6"/>
<line x1="443.41" y1="298.2" x2="443.41" y2="296.9" stroke="#333" stroke-width="0.6"/>
<line x1="443.41" y1="205.3" x2="443.41" y2="206.60000000000002" stroke="#333" stroke-width="0.6"/>
<line x1="449.17" y1="298.2" x2="449.17" y2="296.9" stroke="#333" stroke-width="0.6"/>
<line x1="449.17" y1="205.3" x2="449.17" y2="206.60000000000002" stroke="#333" stroke-width="0.6"/>
<line x1="454.93" y1="298.2" x2="454.93" y2="296.9" stroke="#333" stroke-width="0.6"/>
<line x1="454.93" y1="205.3" x2="454.93" y2="206.60000000000002" stroke="#333" stroke-width="0.6"/>
<text x="341.9" y="219.4" font-size="9.8" text-anchor="end" font-weight="bold" fill="#0072BD" stroke="#0072BD" stroke-width="0.3" >2.5</text>
<text x="463.5" y="219.4" font-size="9.8" text-anchor="start" font-weight="bold" fill="#D95319" stroke="#D95319" stroke-width="0.3" >2.5</text>
<text x="341.9" y="241.7" font-size="9.8" text-anchor="end" font-weight="bold" fill="#0072BD" stroke="#0072BD" stroke-width="0.3" >2</text>
<text x="463.5" y="241.7" font-size="9.8" text-anchor="start" font-weight="bold" fill="#D95319" stroke="#D95319" stroke-width="0.3" >2</text>
<text x="341.9" y="264.7" font-size="9.8" text-anchor="end" font-weight="bold" fill="#0072BD" stroke="#0072BD" stroke-width="0.3" >1.5</text>
<text x="463.5" y="264.7" font-size="9.8" text-anchor="start" font-weight="bold" fill="#D95319" stroke="#D95319" stroke-width="0.3" >1.5</text>
<text x="341.9" y="287.1" font-size="9.8" text-anchor="end" font-weight="bold" fill="#0072BD" stroke="#0072BD" stroke-width="0.3" >1</text>
<text x="463.5" y="287.1" font-size="9.8" text-anchor="start" font-weight="bold" fill="#D95319" stroke="#D95319" stroke-width="0.3" >1</text>
<text x="344.8" y="311.4" font-size="9.9" text-anchor="middle" font-weight="bold" fill="#1a1a1a" stroke="#1a1a1a" stroke-width="0.3" >250</text>
<text x="373.9" y="311.4" font-size="9.9" text-anchor="middle" font-weight="bold" fill="#1a1a1a" stroke="#1a1a1a" stroke-width="0.3" >300</text>
<text x="403.6" y="311.4" font-size="9.9" text-anchor="middle" font-weight="bold" fill="#1a1a1a" stroke="#1a1a1a" stroke-width="0.3" >350</text>
<text x="432.3" y="311.4" font-size="9.9" text-anchor="middle" font-weight="bold" fill="#1a1a1a" stroke="#1a1a1a" stroke-width="0.3" >400</text>
<text x="402.9" y="325.6" font-size="10.8" text-anchor="middle" font-weight="bold" fill="#1a1a1a" stroke="#1a1a1a" stroke-width="0.3" >x (nm)</text>
<text transform="translate(323.6,252.8) rotate(-90)" font-size="10.8" text-anchor="middle" font-weight="bold" fill="#0072BD">E (eV)</text>
<text x="356.3" y="277.3" font-size="11.0" text-anchor="middle" fill="#776a82" stroke="#776a82" stroke-width="0.3">E</text>
<text x="376.3" y="277.3" font-size="11.0" text-anchor="middle" fill="#776a82" stroke="#776a82" stroke-width="0.3">B</text>
<text x="418.8" y="277.3" font-size="11.0" text-anchor="middle" fill="#776a82" stroke="#776a82" stroke-width="0.3">C</text>
<text x="373.8" y="196.5" font-size="10.4" text-anchor="start" font-weight="bold" fill="#111" stroke="#111" stroke-width="0.3" >V</text>
<text x="381.6" y="201.8" font-size="8.7" text-anchor="start" font-weight="bold" fill="#111" stroke="#111" stroke-width="0.3" >CE</text>
<text x="397.2" y="196.5" font-size="10.4" text-anchor="start" font-weight="bold" fill="#111" stroke="#111" stroke-width="0.3" >=</text>
<text x="406.9" y="196.5" font-size="10.4" text-anchor="start" font-weight="bold" fill="#111" stroke="#111" stroke-width="0.3" letter-spacing="0.3">1.8</text>
<text x="424.6" y="196.5" font-size="10.4" text-anchor="start" font-weight="bold" fill="#111" stroke="#111" stroke-width="0.3" >V</text>
<rect x="483.0" y="205.9" width="10.8" height="91.7" fill="url(#jetg)" stroke="#333" stroke-width="0.5"/>
<text x="496.4" y="214.5" font-size="8.0" text-anchor="start" font-weight="bold" fill="#111" stroke="#111" stroke-width="0.3" >2</text>
<line x1="493.8" y1="211.6" x2="492.6" y2="211.6" stroke="#333" stroke-width="0.5"/>
<text x="496.4" y="234.3" font-size="8.0" text-anchor="start" font-weight="bold" fill="#111" stroke="#111" stroke-width="0.3" >1</text>
<line x1="493.8" y1="231.4" x2="492.6" y2="231.4" stroke="#333" stroke-width="0.5"/>
<text x="496.4" y="254.9" font-size="8.0" text-anchor="start" font-weight="bold" fill="#111" stroke="#111" stroke-width="0.3" >0</text>
<line x1="493.8" y1="252.0" x2="492.6" y2="252.0" stroke="#333" stroke-width="0.5"/>
<text x="496.4" y="276.1" font-size="8.0" text-anchor="start" font-weight="bold" fill="#111" stroke="#111" stroke-width="0.3" >-1</text>
<line x1="493.8" y1="273.2" x2="492.6" y2="273.2" stroke="#333" stroke-width="0.5"/>
<text x="496.4" y="296.3" font-size="8.0" text-anchor="start" font-weight="bold" fill="#111" stroke="#111" stroke-width="0.3" >-2</text>
<line x1="493.8" y1="293.4" x2="492.6" y2="293.4" stroke="#333" stroke-width="0.5"/>
<text x="494.6" y="202.2" font-size="9.2" fill="#111">×10<tspan font-size="7.0" dy="-3.5">-3</tspan></text>
<linearGradient id="elg" x1="428" y1="0" x2="458" y2="0" gradientUnits="userSpaceOnUse"><stop offset="0" stop-color="#2a2a2a"/><stop offset="0.25" stop-color="#6a8a60"/><stop offset="1" stop-color="#88d870"/></linearGradient>
<path d="M427.3,226.2 L458,226.1 L458,227.4 L427.3,226.8 Z" fill="url(#elg)"/>
<path d="M427.2,226.4 L431.5,225.6 L431.5,227.3 Z" fill="#111"/>
<ellipse cx="443.3" cy="226.6" rx="19.6" ry="4.7" fill="none" stroke="#FF8C00" stroke-width="1.2" stroke-dasharray="2.2,1.4"/>
</svg>
</body></html>
